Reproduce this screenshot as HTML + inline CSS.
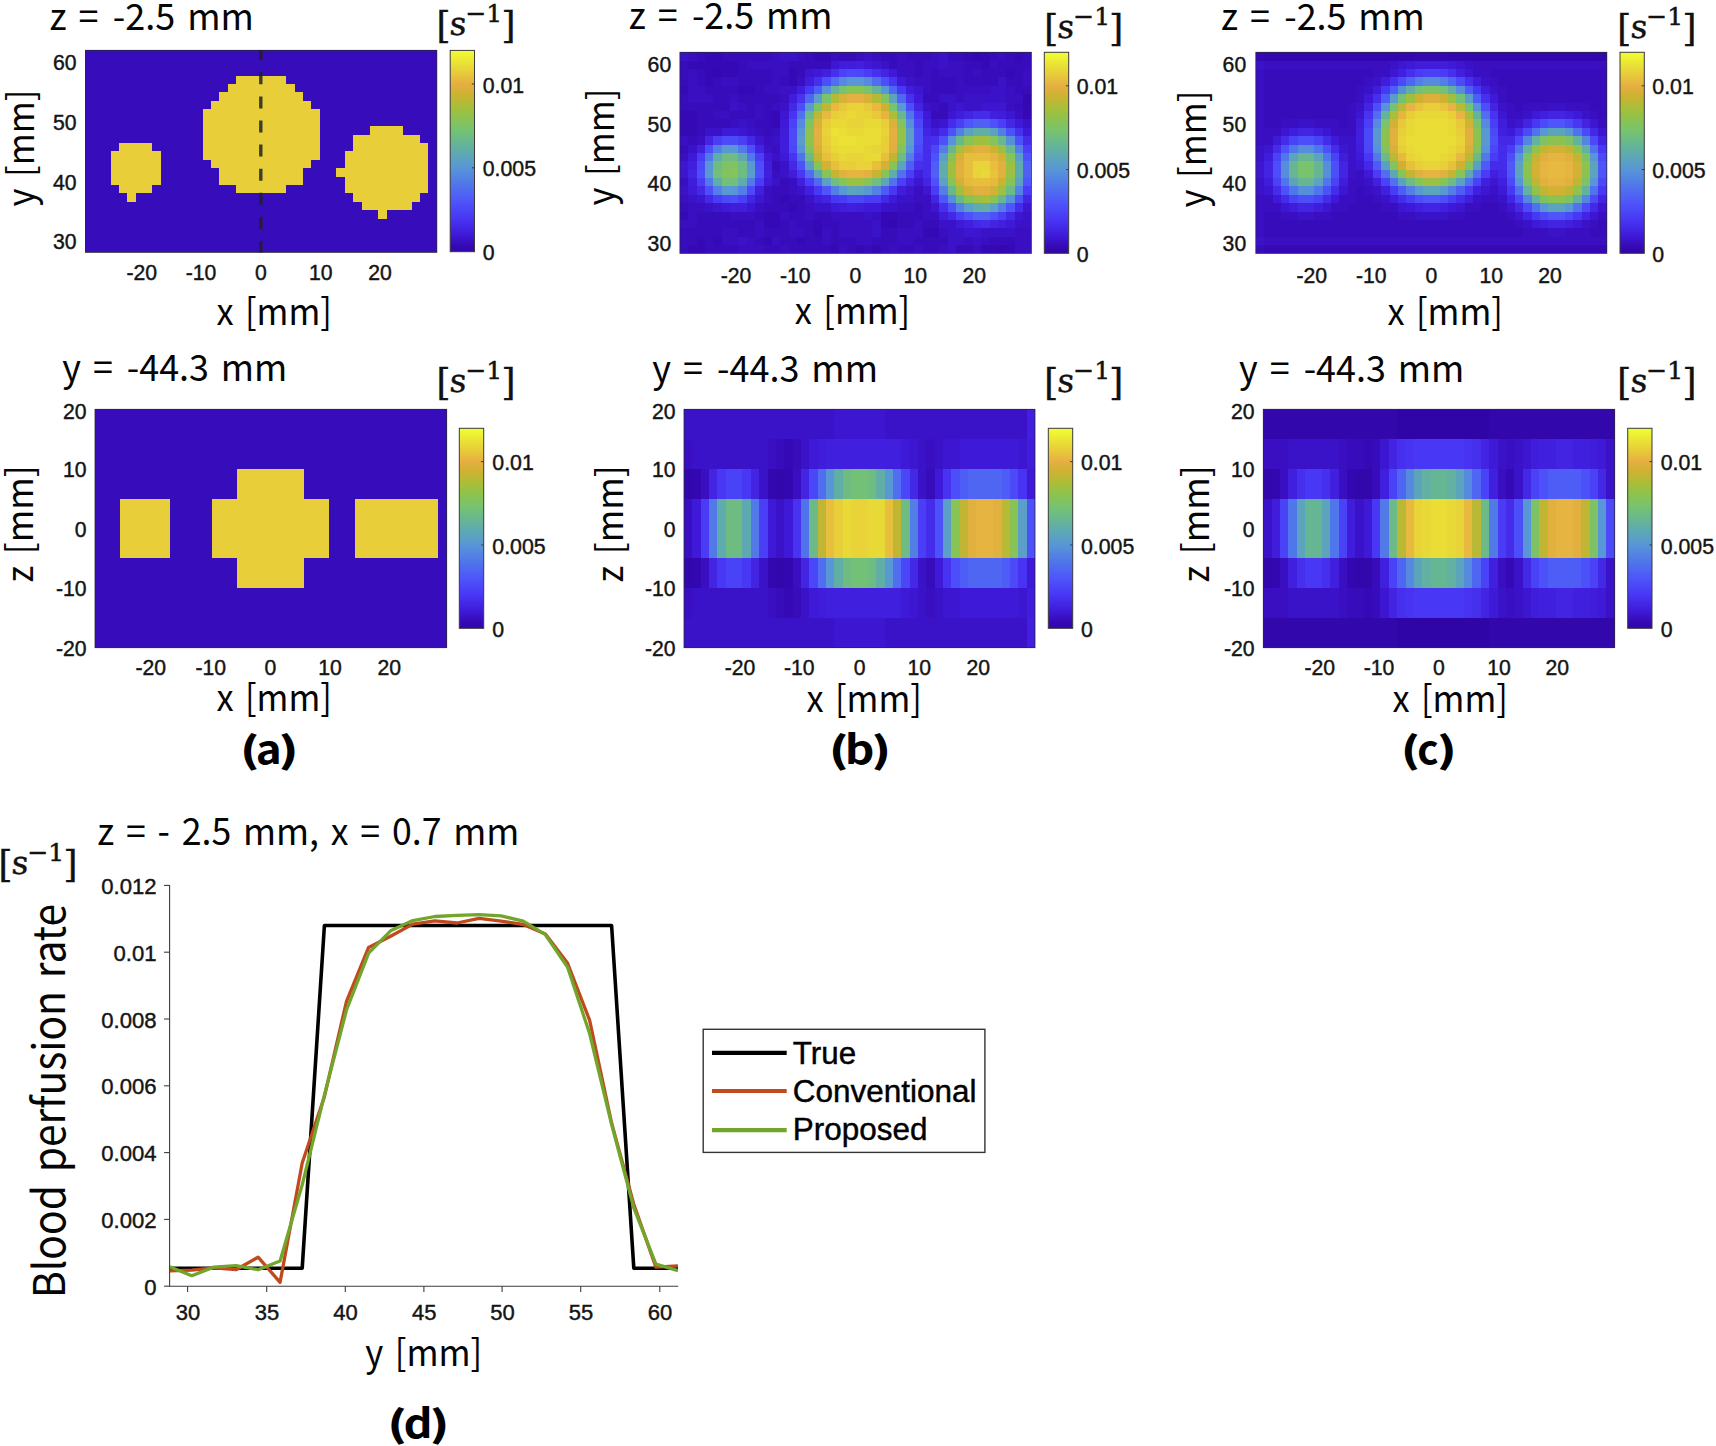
<!DOCTYPE html>
<html lang="en"><head><meta charset="utf-8"><title>Blood perfusion rate reconstruction</title>
<style>html,body{margin:0;padding:0;background:#fff}svg{display:block}</style></head>
<body>
<svg width="1716" height="1446" viewBox="0 0 1716 1446">
<defs><linearGradient id="cb" x1="0" y1="1" x2="0" y2="0">
<stop offset="0.0000" stop-color="#3005a8"/>
<stop offset="0.0417" stop-color="#370cba"/>
<stop offset="0.0833" stop-color="#3e19d7"/>
<stop offset="0.1667" stop-color="#4837f5"/>
<stop offset="0.2500" stop-color="#4e55fa"/>
<stop offset="0.3333" stop-color="#5076eb"/>
<stop offset="0.4167" stop-color="#5896d7"/>
<stop offset="0.5000" stop-color="#5facac"/>
<stop offset="0.5542" stop-color="#69b98c"/>
<stop offset="0.6108" stop-color="#78c36e"/>
<stop offset="0.6667" stop-color="#8cc350"/>
<stop offset="0.7250" stop-color="#aabe37"/>
<stop offset="0.7808" stop-color="#cdb232"/>
<stop offset="0.8333" stop-color="#e6af41"/>
<stop offset="0.9133" stop-color="#e8d737"/>
<stop offset="0.9892" stop-color="#f0fa32"/>
<stop offset="1.0000" stop-color="#f2fc30"/>
</linearGradient></defs>
<rect width="1716" height="1446" fill="#fff"/>
<g transform="translate(85.40 50.30) scale(8.36667 8.42083)" shape-rendering="crispEdges">
<rect width="42" height="24" fill="#370cba"/>
<path fill="#e8ce39" d="M18 3h6v1h-6zM17 4h8v1h-8zM16 5h10v1h-10zM15 6h12v1h-12zM14 7h14v1h-14zM14 8h14v1h-14zM14 9h14v1h-14zM34 9h4v1h-4zM14 10h14v1h-14zM32 10h8v1h-8zM4 11h4v1h-4zM14 11h14v1h-14zM32 11h9v1h-9zM3 12h6v1h-6zM14 12h14v1h-14zM31 12h10v1h-10zM3 13h6v1h-6zM15 13h12v1h-12zM31 13h10v1h-10zM3 14h6v1h-6zM16 14h10v1h-10zM30 14h11v1h-11zM3 15h6v1h-6zM16 15h10v1h-10zM31 15h10v1h-10zM4 16h4v1h-4zM18 16h6v1h-6zM31 16h10v1h-10zM5 17h1v1h-1zM32 17h8v1h-8zM33 18h6v1h-6zM35 19h1v1h-1z"/>
</g>
<rect x="85.40" y="50.30" width="351.40" height="202.10" fill="none" stroke="#2a2a3a" stroke-width="0.8"/>
<rect x="450.20" y="50.40" width="24.30" height="201.30" fill="url(#cb)" stroke="#3a3a3a" stroke-width="1"/>
<path d="M474.50 83.95h-2.6" stroke="#3a3a3a" stroke-width="1"/>
<text x="482.7" y="92.6" font-size="21.3" font-family="'Liberation Sans', Arial, sans-serif" fill="#141414" stroke="#141414" stroke-width="0.42" >0.01</text>
<path d="M474.50 167.82h-2.6" stroke="#3a3a3a" stroke-width="1"/>
<text x="482.7" y="176.4" font-size="21.3" font-family="'Liberation Sans', Arial, sans-serif" fill="#141414" stroke="#141414" stroke-width="0.42" >0.005</text>
<text x="482.7" y="260.3" font-size="21.3" font-family="'Liberation Sans', Arial, sans-serif" fill="#141414" stroke="#141414" stroke-width="0.42" >0</text>
<text x="49.4" y="30.1" font-size="37.0" font-family="'Noto Sans CJK KR', 'Liberation Sans', sans-serif" fill="#050505" textLength="204.5" lengthAdjust="spacingAndGlyphs" word-spacing="4" xml:space="preserve">z = <tspan dx="2.5">-2.5 mm</tspan></text>
<text x="34.0" y="148.0" font-size="37.0" font-family="'Noto Sans CJK KR', 'Liberation Sans', sans-serif" fill="#050505" text-anchor="middle" textLength="117.0" lengthAdjust="spacingAndGlyphs" transform="rotate(-90 34.0 148.0)" word-spacing="4" >y [mm]</text>
<text x="76.5" y="70.4" font-size="21.2" font-family="'Liberation Sans', Arial, sans-serif" fill="#141414" text-anchor="end" stroke="#141414" stroke-width="0.42" >60</text>
<text x="76.5" y="130.4" font-size="21.2" font-family="'Liberation Sans', Arial, sans-serif" fill="#141414" text-anchor="end" stroke="#141414" stroke-width="0.42" >50</text>
<text x="76.5" y="189.8" font-size="21.2" font-family="'Liberation Sans', Arial, sans-serif" fill="#141414" text-anchor="end" stroke="#141414" stroke-width="0.42" >40</text>
<text x="76.5" y="248.8" font-size="21.2" font-family="'Liberation Sans', Arial, sans-serif" fill="#141414" text-anchor="end" stroke="#141414" stroke-width="0.42" >30</text>
<text x="141.7" y="280.3" font-size="21.2" font-family="'Liberation Sans', Arial, sans-serif" fill="#141414" text-anchor="middle" stroke="#141414" stroke-width="0.42" >-20</text>
<text x="201.0" y="280.3" font-size="21.2" font-family="'Liberation Sans', Arial, sans-serif" fill="#141414" text-anchor="middle" stroke="#141414" stroke-width="0.42" >-10</text>
<text x="261.0" y="280.3" font-size="21.2" font-family="'Liberation Sans', Arial, sans-serif" fill="#141414" text-anchor="middle" stroke="#141414" stroke-width="0.42" >0</text>
<text x="320.7" y="280.3" font-size="21.2" font-family="'Liberation Sans', Arial, sans-serif" fill="#141414" text-anchor="middle" stroke="#141414" stroke-width="0.42" >10</text>
<text x="380.0" y="280.3" font-size="21.2" font-family="'Liberation Sans', Arial, sans-serif" fill="#141414" text-anchor="middle" stroke="#141414" stroke-width="0.42" >20</text>
<text x="274.2" y="325.0" font-size="37.0" font-family="'Noto Sans CJK KR', 'Liberation Sans', sans-serif" fill="#050505" text-anchor="middle" textLength="115.5" lengthAdjust="spacingAndGlyphs" word-spacing="4" >x [mm]</text>
<g font-family="'DejaVu Serif', 'Liberation Serif', serif" fill="#111">
<text x="436.2" y="37.6" font-size="37" stroke="#111" stroke-width="0.3">[</text>
<text x="449.0" y="34.7" font-size="32.5" stroke="#111" stroke-width="0.45" transform="translate(449.0 34.7) skewX(-5) translate(-449.0 -34.7)">s</text>
<text x="465.4" y="21.5" font-size="25" stroke="#111" stroke-width="0.5">−1</text>
<text x="501.3" y="37.6" font-size="37" stroke="#111" stroke-width="0.3">]</text>
</g>
<path d="M260.8 50.3V252.4" stroke="#222" stroke-opacity="0.85" stroke-width="3.4" stroke-dasharray="12 12.1" stroke-dashoffset="2.1"/>
<g transform="translate(679.90 52.30) scale(8.36905 8.38333)" shape-rendering="crispEdges">
<rect width="42" height="24" fill="#370cba"/>
<path fill="#3408b1" d="M35 0h1v1h-1zM4 2h1v1h-1zM41 5h1v1h-1zM25 20h1v1h-1zM38 23h1v1h-1z"/>
<path fill="#350ab6" d="M3 0h2v1h-2zM16 0h2v1h-2zM34 0h1v1h-1zM36 0h1v1h-1zM40 0h1v1h-1zM1 1h6v1h-6zM36 1h1v1h-1zM3 2h1v1h-1zM5 2h2v1h-2zM13 2h1v1h-1zM39 2h1v1h-1zM3 3h1v1h-1zM13 3h1v1h-1zM0 4h1v1h-1zM7 4h2v1h-2zM41 6h1v1h-1zM0 7h2v1h-2zM11 7h1v1h-1zM41 7h1v1h-1zM0 8h2v1h-2zM11 8h1v1h-1zM0 9h2v1h-2zM12 17h1v1h-1zM13 18h1v1h-1zM0 19h1v1h-1zM10 19h2v1h-2zM24 19h2v1h-2zM10 20h2v1h-2zM16 20h1v1h-1zM24 20h1v1h-1zM16 21h1v1h-1zM29 21h2v1h-2zM2 22h1v1h-1zM4 22h1v1h-1zM10 22h1v1h-1zM14 22h1v1h-1zM1 23h2v1h-2zM18 23h1v1h-1zM21 23h1v1h-1zM23 23h1v1h-1zM36 23h2v1h-2zM39 23h1v1h-1z"/>
<path fill="#390fc1" d="M1 0h1v1h-1zM11 0h1v1h-1zM14 0h1v1h-1zM18 0h1v1h-1zM21 0h1v1h-1zM23 0h1v1h-1zM26 0h1v1h-1zM30 0h1v1h-1zM38 0h1v1h-1zM8 1h5v1h-5zM26 1h2v1h-2zM29 1h2v1h-2zM32 1h2v1h-2zM37 1h1v1h-1zM1 2h1v1h-1zM11 2h2v1h-2zM26 2h2v1h-2zM29 2h1v1h-1zM31 2h3v1h-3zM35 2h1v1h-1zM41 2h1v1h-1zM1 3h1v1h-1zM5 3h2v1h-2zM11 3h1v1h-1zM14 3h1v1h-1zM28 3h2v1h-2zM33 3h1v1h-1zM41 3h1v1h-1zM1 4h2v1h-2zM10 4h2v1h-2zM29 4h1v1h-1zM33 4h4v1h-4zM39 4h1v1h-1zM1 5h3v1h-3zM6 5h1v1h-1zM12 5h1v1h-1zM33 5h1v1h-1zM39 5h2v1h-2zM7 6h1v1h-1zM9 6h1v1h-1zM11 6h1v1h-1zM30 6h1v1h-1zM39 6h1v1h-1zM4 7h2v1h-2zM9 7h1v1h-1zM40 7h1v1h-1zM6 8h1v1h-1zM8 8h1v1h-1zM9 9h1v1h-1zM11 9h1v1h-1zM0 10h1v1h-1zM2 10h1v1h-1zM10 10h1v1h-1zM11 11h1v1h-1zM0 12h1v1h-1zM11 14h1v1h-1zM0 15h1v1h-1zM13 15h1v1h-1zM10 16h1v1h-1zM13 16h1v1h-1zM28 16h1v1h-1zM0 17h1v1h-1zM10 17h1v1h-1zM28 17h2v1h-2zM1 18h2v1h-2zM9 18h1v1h-1zM15 18h1v1h-1zM26 18h2v1h-2zM29 18h1v1h-1zM1 19h1v1h-1zM6 19h3v1h-3zM12 19h1v1h-1zM15 19h1v1h-1zM18 19h4v1h-4zM23 19h1v1h-1zM29 19h2v1h-2zM0 20h2v1h-2zM9 20h1v1h-1zM13 20h1v1h-1zM19 20h4v1h-4zM28 20h1v1h-1zM5 21h2v1h-2zM9 21h1v1h-1zM13 21h2v1h-2zM17 21h1v1h-1zM19 21h4v1h-4zM26 21h3v1h-3zM31 21h1v1h-1zM40 21h2v1h-2zM5 22h2v1h-2zM8 22h1v1h-1zM11 22h1v1h-1zM17 22h1v1h-1zM21 22h2v1h-2zM26 22h2v1h-2zM34 22h1v1h-1zM36 22h1v1h-1zM40 22h2v1h-2zM7 23h3v1h-3zM12 23h1v1h-1zM19 23h1v1h-1zM25 23h1v1h-1zM28 23h1v1h-1zM31 23h1v1h-1zM35 23h1v1h-1zM40 23h2v1h-2z"/>
<path fill="#3a12c8" d="M0 0h1v1h-1zM12 0h2v1h-2zM22 0h1v1h-1zM31 0h1v1h-1zM24 1h1v1h-1zM31 1h1v1h-1zM27 3h1v1h-1zM38 3h1v1h-1zM12 4h2v1h-2zM37 4h2v1h-2zM31 5h2v1h-2zM34 5h5v1h-5zM6 6h1v1h-1zM12 6h1v1h-1zM29 6h1v1h-1zM32 6h1v1h-1zM34 6h2v1h-2zM7 8h1v1h-1zM30 8h1v1h-1zM41 8h1v1h-1zM3 9h2v1h-2zM8 9h1v1h-1zM11 10h1v1h-1zM1 11h1v1h-1zM10 11h1v1h-1zM11 12h1v1h-1zM12 13h1v1h-1zM12 14h1v1h-1zM11 15h1v1h-1zM0 16h1v1h-1zM14 16h1v1h-1zM1 17h1v1h-1zM15 17h1v1h-1zM26 17h2v1h-2zM3 18h1v1h-1zM16 18h2v1h-2zM24 18h2v1h-2zM22 19h1v1h-1zM41 19h1v1h-1zM23 20h1v1h-1zM31 20h2v1h-2zM40 20h2v1h-2zM23 21h1v1h-1zM32 21h2v1h-2zM36 21h4v1h-4zM7 22h1v1h-1zM32 22h2v1h-2zM35 22h1v1h-1zM32 23h1v1h-1z"/>
<path fill="#3c16d0" d="M18 1h1v1h-1zM23 1h1v1h-1zM15 2h1v1h-1zM28 4h1v1h-1zM33 6h1v1h-1zM36 6h3v1h-3zM12 7h1v1h-1zM32 7h1v1h-1zM39 7h1v1h-1zM31 8h1v1h-1zM7 9h1v1h-1zM9 10h1v1h-1zM0 13h1v1h-1zM0 14h1v1h-1zM28 15h1v1h-1zM27 16h1v1h-1zM29 16h1v1h-1zM2 17h1v1h-1zM9 17h1v1h-1zM4 18h1v1h-1zM8 18h1v1h-1zM30 18h1v1h-1zM41 18h1v1h-1zM40 19h1v1h-1zM34 21h2v1h-2z"/>
<path fill="#3e19d7" d="M22 1h1v1h-1zM16 2h1v1h-1zM25 2h1v1h-1zM26 3h1v1h-1zM28 5h1v1h-1zM29 7h1v1h-1zM12 8h1v1h-1zM40 8h1v1h-1zM5 9h2v1h-2zM41 9h1v1h-1zM1 12h1v1h-1zM10 12h1v1h-1zM12 12h1v1h-1zM10 15h1v1h-1zM1 16h1v1h-1zM25 17h1v1h-1zM5 18h1v1h-1zM18 18h1v1h-1zM22 18h2v1h-2zM33 20h1v1h-1zM39 20h1v1h-1z"/>
<path fill="#3f1ddb" d="M19 1h2v1h-2zM15 3h1v1h-1zM14 4h1v1h-1zM27 4h1v1h-1zM13 5h1v1h-1zM33 7h1v1h-1zM38 7h1v1h-1zM29 8h1v1h-1zM12 9h1v1h-1zM30 9h1v1h-1zM12 10h1v1h-1zM12 11h1v1h-1zM10 13h1v1h-1zM13 14h1v1h-1zM1 15h1v1h-1zM26 16h1v1h-1zM16 17h1v1h-1zM6 18h2v1h-2zM19 18h1v1h-1zM21 18h1v1h-1zM31 19h1v1h-1z"/>
<path fill="#4020de" d="M21 1h1v1h-1zM17 2h1v1h-1zM37 7h1v1h-1zM2 11h1v1h-1zM1 13h1v1h-1zM10 14h1v1h-1zM28 14h1v1h-1zM14 15h1v1h-1zM9 16h1v1h-1zM15 16h1v1h-1zM20 18h1v1h-1zM34 20h1v1h-1zM38 20h1v1h-1z"/>
<path fill="#4224e2" d="M24 2h1v1h-1zM28 6h1v1h-1zM34 7h1v1h-1zM29 9h1v1h-1zM3 10h1v1h-1zM9 11h1v1h-1zM1 14h1v1h-1zM27 15h1v1h-1zM29 15h1v1h-1zM8 17h1v1h-1zM17 17h1v1h-1zM30 17h1v1h-1zM41 17h1v1h-1zM37 20h1v1h-1z"/>
<path fill="#4328e6" d="M13 6h1v1h-1zM39 8h1v1h-1zM8 10h1v1h-1zM13 13h1v1h-1zM2 16h1v1h-1zM3 17h1v1h-1zM24 17h1v1h-1zM32 19h1v1h-1zM39 19h1v1h-1zM35 20h1v1h-1z"/>
<path fill="#442cea" d="M35 7h2v1h-2zM32 8h1v1h-1zM31 9h1v1h-1zM29 10h1v1h-1zM41 10h1v1h-1zM29 11h1v1h-1zM29 12h1v1h-1zM29 13h1v1h-1zM29 14h1v1h-1zM40 18h1v1h-1zM36 20h1v1h-1z"/>
<path fill="#4630ee" d="M18 2h1v1h-1zM23 2h1v1h-1zM16 3h1v1h-1zM27 5h1v1h-1zM40 9h1v1h-1zM30 10h1v1h-1zM28 13h1v1h-1zM31 18h1v1h-1z"/>
<path fill="#4733f1" d="M25 3h1v1h-1zM14 5h1v1h-1zM13 7h1v1h-1zM13 12h1v1h-1z"/>
<path fill="#4837f5" d="M15 4h1v1h-1zM26 4h1v1h-1zM28 7h1v1h-1zM14 14h1v1h-1zM16 16h1v1h-1zM25 16h1v1h-1zM18 17h1v1h-1z"/>
<path fill="#493bf6" d="M22 2h1v1h-1zM4 10h1v1h-1zM2 12h1v1h-1zM2 15h1v1h-1zM9 15h1v1h-1zM30 16h1v1h-1zM41 16h1v1h-1zM4 17h1v1h-1zM19 17h1v1h-1zM22 17h2v1h-2z"/>
<path fill="#4a3ef6" d="M33 8h1v1h-1zM38 8h1v1h-1zM7 10h1v1h-1zM41 11h1v1h-1zM9 12h1v1h-1zM28 12h1v1h-1zM27 14h1v1h-1zM15 15h1v1h-1zM26 15h1v1h-1zM7 17h1v1h-1zM33 19h1v1h-1zM38 19h1v1h-1z"/>
<path fill="#4a42f7" d="M19 2h1v1h-1zM13 8h1v1h-1z"/>
<path fill="#4b46f8" d="M21 2h1v1h-1zM28 8h1v1h-1zM13 11h1v1h-1zM30 11h1v1h-1zM20 17h2v1h-2z"/>
<path fill="#4c4af8" d="M20 2h1v1h-1zM13 9h1v1h-1zM5 10h2v1h-2zM13 10h1v1h-1zM28 11h1v1h-1zM2 13h1v1h-1zM8 16h1v1h-1zM5 17h1v1h-1z"/>
<path fill="#4c4ef9" d="M17 3h1v1h-1zM24 3h1v1h-1zM14 6h1v1h-1zM27 6h1v1h-1zM3 11h1v1h-1zM8 11h1v1h-1zM9 13h1v1h-1zM2 14h1v1h-1zM3 16h1v1h-1zM6 17h1v1h-1z"/>
<path fill="#4d51f9" d="M37 8h1v1h-1zM28 9h1v1h-1zM32 9h1v1h-1zM39 9h1v1h-1zM28 10h1v1h-1zM31 10h1v1h-1zM40 10h1v1h-1zM30 12h1v1h-1zM41 12h1v1h-1zM14 13h1v1h-1zM9 14h1v1h-1zM30 15h1v1h-1zM40 17h1v1h-1zM32 18h1v1h-1zM34 19h1v1h-1zM37 19h1v1h-1z"/>
<path fill="#4e55fa" d="M34 8h1v1h-1zM41 15h1v1h-1zM17 16h1v1h-1zM31 17h1v1h-1zM39 18h1v1h-1z"/>
<path fill="#4e59f8" d="M24 16h1v1h-1z"/>
<path fill="#4e5df6" d="M16 4h1v1h-1zM27 13h1v1h-1zM30 13h1v1h-1z"/>
<path fill="#4f61f4" d="M35 8h2v1h-2zM41 13h1v1h-1zM30 14h1v1h-1zM41 14h1v1h-1zM35 19h2v1h-2z"/>
<path fill="#4f66f2" d="M25 4h1v1h-1zM15 5h1v1h-1zM26 5h1v1h-1z"/>
<path fill="#4f6af1" d="M16 15h1v1h-1z"/>
<path fill="#506eef" d="M18 3h1v1h-1zM23 3h1v1h-1zM15 14h1v1h-1z"/>
<path fill="#5072ed" d="M14 7h1v1h-1zM14 12h1v1h-1zM26 14h1v1h-1zM25 15h1v1h-1z"/>
<path fill="#5076eb" d="M27 7h1v1h-1z"/>
<path fill="#517ae8" d="M7 11h1v1h-1zM3 12h1v1h-1zM8 12h1v1h-1zM3 15h1v1h-1zM8 15h1v1h-1z"/>
<path fill="#527ee6" d="M33 9h1v1h-1zM38 9h1v1h-1zM4 11h1v1h-1zM31 11h1v1h-1zM40 11h1v1h-1zM27 12h1v1h-1zM4 16h1v1h-1zM7 16h1v1h-1zM18 16h1v1h-1zM31 16h1v1h-1zM38 18h1v1h-1z"/>
<path fill="#5382e4" d="M23 16h1v1h-1zM40 16h1v1h-1zM33 18h1v1h-1z"/>
<path fill="#558ade" d="M19 3h1v1h-1zM22 3h1v1h-1zM14 8h1v1h-1z"/>
<path fill="#568edc" d="M27 8h1v1h-1zM39 10h1v1h-1zM32 17h1v1h-1z"/>
<path fill="#5792da" d="M17 4h1v1h-1zM32 10h1v1h-1zM14 11h1v1h-1zM39 17h1v1h-1z"/>
<path fill="#5896d7" d="M20 3h2v1h-2zM24 4h1v1h-1zM14 9h1v1h-1zM6 11h1v1h-1zM27 11h1v1h-1zM3 13h1v1h-1zM6 16h1v1h-1z"/>
<path fill="#5999d2" d="M26 6h1v1h-1zM5 11h1v1h-1zM8 13h1v1h-1zM3 14h1v1h-1zM5 16h1v1h-1zM19 16h1v1h-1zM22 16h1v1h-1z"/>
<path fill="#5a9ccc" d="M15 6h1v1h-1zM14 10h1v1h-1zM8 14h1v1h-1z"/>
<path fill="#5b9ec7" d="M16 5h1v1h-1zM27 9h1v1h-1zM27 10h1v1h-1zM31 12h1v1h-1zM40 12h1v1h-1zM15 13h1v1h-1zM34 18h1v1h-1zM37 18h1v1h-1z"/>
<path fill="#5ca1c2" d="M34 9h1v1h-1zM37 9h1v1h-1zM17 15h1v1h-1zM31 15h1v1h-1zM40 15h1v1h-1zM21 16h1v1h-1z"/>
<path fill="#5ca4bc" d="M25 5h1v1h-1zM26 13h1v1h-1zM20 16h1v1h-1z"/>
<path fill="#5da6b7" d="M24 15h1v1h-1z"/>
<path fill="#5ea9b1" d="M7 12h1v1h-1zM16 14h1v1h-1z"/>
<path fill="#5facac" d="M4 12h1v1h-1zM31 13h1v1h-1zM40 13h1v1h-1zM25 14h1v1h-1zM40 14h1v1h-1zM4 15h1v1h-1zM7 15h1v1h-1zM35 18h1v1h-1z"/>
<path fill="#61aea6" d="M35 9h2v1h-2zM31 14h1v1h-1zM36 18h1v1h-1z"/>
<path fill="#65b49a" d="M18 4h1v1h-1zM23 4h1v1h-1z"/>
<path fill="#69b88d" d="M26 7h1v1h-1zM33 10h1v1h-1zM38 10h1v1h-1zM32 11h1v1h-1zM39 11h1v1h-1zM32 16h1v1h-1zM33 17h1v1h-1zM38 17h1v1h-1z"/>
<path fill="#6bba88" d="M15 7h1v1h-1zM15 12h1v1h-1zM39 16h1v1h-1z"/>
<path fill="#6ebc82" d="M5 12h2v1h-2zM26 12h1v1h-1zM4 13h1v1h-1zM7 13h1v1h-1zM7 14h1v1h-1z"/>
<path fill="#71be7d" d="M4 14h1v1h-1zM6 15h1v1h-1zM18 15h1v1h-1zM23 15h1v1h-1z"/>
<path fill="#73c077" d="M5 15h1v1h-1z"/>
<path fill="#79c36c" d="M19 4h1v1h-1zM22 4h1v1h-1zM17 5h1v1h-1zM25 6h1v1h-1z"/>
<path fill="#7dc366" d="M16 6h1v1h-1zM5 13h1v1h-1z"/>
<path fill="#81c361" d="M24 5h1v1h-1zM15 8h1v1h-1zM26 8h1v1h-1zM15 11h1v1h-1zM26 11h1v1h-1zM6 13h1v1h-1zM5 14h1v1h-1z"/>
<path fill="#85c35b" d="M37 10h1v1h-1zM6 14h1v1h-1z"/>
<path fill="#88c356" d="M20 4h2v1h-2zM34 10h1v1h-1zM32 12h1v1h-1zM39 12h1v1h-1zM16 13h1v1h-1zM25 13h1v1h-1zM17 14h1v1h-1zM24 14h1v1h-1zM19 15h1v1h-1zM32 15h1v1h-1zM39 15h1v1h-1zM34 17h1v1h-1z"/>
<path fill="#8cc350" d="M15 9h1v1h-1zM22 15h1v1h-1zM37 17h1v1h-1z"/>
<path fill="#91c24c" d="M26 9h1v1h-1zM15 10h1v1h-1zM26 10h1v1h-1z"/>
<path fill="#9cc043" d="M39 13h1v1h-1zM39 14h1v1h-1zM20 15h2v1h-2zM35 17h1v1h-1z"/>
<path fill="#a1bf3e" d="M35 10h2v1h-2zM38 11h1v1h-1zM32 13h1v1h-1zM32 14h1v1h-1zM33 16h1v1h-1zM38 16h1v1h-1z"/>
<path fill="#a7bf3a" d="M33 11h1v1h-1zM36 17h1v1h-1z"/>
<path fill="#adbd37" d="M25 7h1v1h-1z"/>
<path fill="#b3bb36" d="M18 5h1v1h-1zM23 5h1v1h-1z"/>
<path fill="#bab935" d="M16 7h1v1h-1z"/>
<path fill="#c0b634" d="M17 6h1v1h-1zM16 12h1v1h-1zM25 12h1v1h-1z"/>
<path fill="#c7b433" d="M18 14h1v1h-1zM23 14h1v1h-1z"/>
<path fill="#cdb232" d="M24 6h1v1h-1zM37 11h1v1h-1zM38 15h1v1h-1z"/>
<path fill="#d2b135" d="M34 11h1v1h-1zM38 12h1v1h-1zM17 13h1v1h-1zM24 13h1v1h-1zM33 15h1v1h-1zM34 16h1v1h-1zM37 16h1v1h-1z"/>
<path fill="#d7b138" d="M19 5h1v1h-1zM22 5h1v1h-1zM16 11h1v1h-1zM33 12h1v1h-1z"/>
<path fill="#dcb03b" d="M16 8h1v1h-1zM25 8h1v1h-1z"/>
<path fill="#e1b03e" d="M16 10h1v1h-1zM25 11h1v1h-1zM35 11h2v1h-2zM33 13h1v1h-1zM38 13h1v1h-1zM19 14h1v1h-1zM33 14h1v1h-1zM38 14h1v1h-1zM35 16h2v1h-2z"/>
<path fill="#e6af41" d="M20 5h2v1h-2zM16 9h1v1h-1zM25 9h1v1h-1zM25 10h1v1h-1zM22 14h1v1h-1z"/>
<path fill="#e6b440" d="M24 7h1v1h-1zM37 12h1v1h-1zM20 14h2v1h-2z"/>
<path fill="#e7b93e" d="M18 6h1v1h-1zM23 6h1v1h-1zM17 7h1v1h-1zM34 15h1v1h-1zM37 15h1v1h-1z"/>
<path fill="#e7bf3d" d="M17 12h1v1h-1zM24 12h1v1h-1zM34 12h3v1h-3zM18 13h1v1h-1zM23 13h1v1h-1zM34 13h1v1h-1zM37 13h1v1h-1zM34 14h1v1h-1zM35 15h2v1h-2z"/>
<path fill="#e7c43c" d="M37 14h1v1h-1z"/>
<path fill="#e7c93a" d="M19 6h1v1h-1zM22 6h1v1h-1zM23 7h1v1h-1zM17 11h1v1h-1z"/>
<path fill="#e8ce39" d="M18 7h1v1h-1zM17 8h1v1h-1zM24 8h1v1h-1zM17 10h1v1h-1zM24 10h1v1h-1zM24 11h1v1h-1zM18 12h1v1h-1zM19 13h2v1h-2z"/>
<path fill="#e8d338" d="M20 6h2v1h-2zM19 7h1v1h-1zM21 7h2v1h-2zM20 8h2v1h-2zM17 9h1v1h-1zM24 9h1v1h-1zM23 11h1v1h-1zM20 12h2v1h-2zM21 13h2v1h-2zM35 13h2v1h-2zM35 14h1v1h-1z"/>
<path fill="#e8d937" d="M20 7h1v1h-1zM18 8h2v1h-2zM22 8h2v1h-2zM20 9h2v1h-2zM18 11h1v1h-1zM22 11h1v1h-1zM19 12h1v1h-1zM22 12h2v1h-2zM36 14h1v1h-1z"/>
<path fill="#e9dd36" d="M19 9h1v1h-1zM22 9h2v1h-2zM18 10h1v1h-1zM21 10h3v1h-3zM19 11h3v1h-3z"/>
<path fill="#ebe235" d="M18 9h1v1h-1zM19 10h2v1h-2z"/>
</g>
<rect x="679.90" y="52.30" width="351.50" height="201.20" fill="none" stroke="#2a2a3a" stroke-width="0.8"/>
<rect x="1044.30" y="52.30" width="24.40" height="201.00" fill="url(#cb)" stroke="#3a3a3a" stroke-width="1"/>
<path d="M1068.70 85.80h-2.6" stroke="#3a3a3a" stroke-width="1"/>
<text x="1076.7" y="94.4" font-size="21.3" font-family="'Liberation Sans', Arial, sans-serif" fill="#141414" stroke="#141414" stroke-width="0.42" >0.01</text>
<path d="M1068.70 169.55h-2.6" stroke="#3a3a3a" stroke-width="1"/>
<text x="1076.7" y="178.2" font-size="21.3" font-family="'Liberation Sans', Arial, sans-serif" fill="#141414" stroke="#141414" stroke-width="0.42" >0.005</text>
<text x="1076.7" y="261.9" font-size="21.3" font-family="'Liberation Sans', Arial, sans-serif" fill="#141414" stroke="#141414" stroke-width="0.42" >0</text>
<text x="628.7" y="28.5" font-size="37.0" font-family="'Noto Sans CJK KR', 'Liberation Sans', sans-serif" fill="#050505" textLength="203.8" lengthAdjust="spacingAndGlyphs" word-spacing="4" xml:space="preserve">z = <tspan dx="2.5">-2.5 mm</tspan></text>
<text x="614.0" y="147.0" font-size="37.0" font-family="'Noto Sans CJK KR', 'Liberation Sans', sans-serif" fill="#050505" text-anchor="middle" textLength="117.0" lengthAdjust="spacingAndGlyphs" transform="rotate(-90 614.0 147.0)" word-spacing="4" >y [mm]</text>
<text x="671.2" y="72.1" font-size="21.2" font-family="'Liberation Sans', Arial, sans-serif" fill="#141414" text-anchor="end" stroke="#141414" stroke-width="0.42" >60</text>
<text x="671.2" y="132.1" font-size="21.2" font-family="'Liberation Sans', Arial, sans-serif" fill="#141414" text-anchor="end" stroke="#141414" stroke-width="0.42" >50</text>
<text x="671.2" y="191.4" font-size="21.2" font-family="'Liberation Sans', Arial, sans-serif" fill="#141414" text-anchor="end" stroke="#141414" stroke-width="0.42" >40</text>
<text x="671.2" y="251.1" font-size="21.2" font-family="'Liberation Sans', Arial, sans-serif" fill="#141414" text-anchor="end" stroke="#141414" stroke-width="0.42" >30</text>
<text x="736.0" y="282.7" font-size="21.2" font-family="'Liberation Sans', Arial, sans-serif" fill="#141414" text-anchor="middle" stroke="#141414" stroke-width="0.42" >-20</text>
<text x="795.3" y="282.7" font-size="21.2" font-family="'Liberation Sans', Arial, sans-serif" fill="#141414" text-anchor="middle" stroke="#141414" stroke-width="0.42" >-10</text>
<text x="855.3" y="282.7" font-size="21.2" font-family="'Liberation Sans', Arial, sans-serif" fill="#141414" text-anchor="middle" stroke="#141414" stroke-width="0.42" >0</text>
<text x="915.3" y="282.7" font-size="21.2" font-family="'Liberation Sans', Arial, sans-serif" fill="#141414" text-anchor="middle" stroke="#141414" stroke-width="0.42" >10</text>
<text x="974.3" y="282.7" font-size="21.2" font-family="'Liberation Sans', Arial, sans-serif" fill="#141414" text-anchor="middle" stroke="#141414" stroke-width="0.42" >20</text>
<text x="852.5" y="323.5" font-size="37.0" font-family="'Noto Sans CJK KR', 'Liberation Sans', sans-serif" fill="#050505" text-anchor="middle" textLength="115.5" lengthAdjust="spacingAndGlyphs" word-spacing="4" >x [mm]</text>
<g font-family="'DejaVu Serif', 'Liberation Serif', serif" fill="#111">
<text x="1044.0" y="41.4" font-size="37" stroke="#111" stroke-width="0.3">[</text>
<text x="1056.8" y="38.5" font-size="32.5" stroke="#111" stroke-width="0.45" transform="translate(1056.8 38.5) skewX(-5) translate(-1056.8 -38.5)">s</text>
<text x="1073.2" y="25.3" font-size="25" stroke="#111" stroke-width="0.5">−1</text>
<text x="1109.1" y="41.4" font-size="37" stroke="#111" stroke-width="0.3">]</text>
</g>
<g transform="translate(1255.80 52.30) scale(8.35714 8.38333)" shape-rendering="crispEdges">
<rect width="42" height="24" fill="#370cba"/>
<path fill="#3207ac" d="M41 0h1v1h-1z"/>
<path fill="#3408b1" d="M1 0h18v1h-18zM23 0h18v1h-18z"/>
<path fill="#350ab6" d="M0 0h1v1h-1zM19 0h4v1h-4zM1 23h41v1h-41z"/>
<path fill="#390fc1" d="M1 1h15v1h-15zM26 1h16v1h-16zM0 2h1v1h-1zM14 2h2v1h-2zM26 2h2v1h-2zM0 3h1v1h-1zM13 3h1v1h-1zM28 3h1v1h-1zM0 4h1v1h-1zM12 4h1v1h-1zM29 4h1v1h-1zM0 5h1v1h-1zM12 5h1v1h-1zM29 5h1v1h-1zM0 6h1v1h-1zM11 6h1v1h-1zM30 6h1v1h-1zM32 6h3v1h-3zM37 6h3v1h-3zM0 7h1v1h-1zM11 7h1v1h-1zM30 7h2v1h-2zM40 7h1v1h-1zM0 8h1v1h-1zM3 8h2v1h-2zM7 8h3v1h-3zM11 8h1v1h-1zM41 8h1v1h-1zM0 9h3v1h-3zM9 9h3v1h-3zM0 10h2v1h-2zM12 14h1v1h-1zM11 15h2v1h-2zM11 16h1v1h-1zM13 16h1v1h-1zM0 17h2v1h-2zM10 17h2v1h-2zM14 17h1v1h-1zM27 17h2v1h-2zM0 18h3v1h-3zM9 18h2v1h-2zM15 18h2v1h-2zM25 18h2v1h-2zM29 18h1v1h-1zM0 19h1v1h-1zM3 19h2v1h-2zM7 19h2v1h-2zM17 19h2v1h-2zM23 19h2v1h-2zM30 19h1v1h-1zM41 19h1v1h-1zM0 20h1v1h-1zM31 20h1v1h-1zM40 20h1v1h-1zM0 21h1v1h-1zM32 21h3v1h-3zM37 21h3v1h-3zM1 22h41v1h-41z"/>
<path fill="#3a12c8" d="M0 1h1v1h-1zM16 1h1v1h-1zM25 1h1v1h-1zM14 3h1v1h-1zM27 3h1v1h-1zM13 4h1v1h-1zM28 4h1v1h-1zM12 6h1v1h-1zM29 6h1v1h-1zM35 6h2v1h-2zM32 7h1v1h-1zM39 7h1v1h-1zM5 8h2v1h-2zM30 8h1v1h-1zM10 10h2v1h-2zM0 11h1v1h-1zM11 11h1v1h-1zM0 12h1v1h-1zM11 12h1v1h-1zM11 13h1v1h-1zM11 14h1v1h-1zM0 15h1v1h-1zM13 15h1v1h-1zM0 16h1v1h-1zM14 16h1v1h-1zM28 16h1v1h-1zM15 17h1v1h-1zM26 17h1v1h-1zM29 17h1v1h-1zM5 19h2v1h-2zM19 19h4v1h-4zM32 20h1v1h-1zM39 20h1v1h-1zM35 21h2v1h-2zM0 22h1v1h-1z"/>
<path fill="#3c16d0" d="M17 1h1v1h-1zM24 1h1v1h-1zM16 2h1v1h-1zM25 2h1v1h-1zM12 7h1v1h-1zM29 7h1v1h-1zM31 8h1v1h-1zM40 8h1v1h-1zM3 9h1v1h-1zM8 9h1v1h-1zM41 9h1v1h-1zM1 11h1v1h-1zM10 11h1v1h-1zM0 13h1v1h-1zM12 13h1v1h-1zM0 14h1v1h-1zM28 15h1v1h-1zM1 16h1v1h-1zM10 16h1v1h-1zM27 16h1v1h-1zM3 18h1v1h-1zM8 18h1v1h-1zM17 18h1v1h-1zM24 18h1v1h-1zM30 18h1v1h-1zM41 18h1v1h-1zM31 19h1v1h-1zM40 19h1v1h-1z"/>
<path fill="#3e19d7" d="M18 1h1v1h-1zM23 1h1v1h-1zM13 5h1v1h-1zM28 5h1v1h-1zM33 7h1v1h-1zM38 7h1v1h-1zM30 9h1v1h-1zM2 10h1v1h-1zM9 10h1v1h-1zM12 12h1v1h-1zM13 14h1v1h-1zM29 16h1v1h-1zM2 17h1v1h-1zM9 17h1v1h-1zM18 18h1v1h-1zM23 18h1v1h-1zM33 20h1v1h-1zM38 20h1v1h-1z"/>
<path fill="#3f1ddb" d="M19 1h4v1h-4zM15 3h1v1h-1zM26 3h1v1h-1zM14 4h1v1h-1zM27 4h1v1h-1zM12 8h1v1h-1zM29 8h1v1h-1zM4 9h1v1h-1zM7 9h1v1h-1zM12 11h1v1h-1zM1 12h1v1h-1zM10 12h1v1h-1zM1 15h1v1h-1zM10 15h1v1h-1zM16 17h1v1h-1zM25 17h1v1h-1zM4 18h1v1h-1zM7 18h1v1h-1z"/>
<path fill="#4020de" d="M17 2h1v1h-1zM24 2h1v1h-1zM34 7h1v1h-1zM37 7h1v1h-1zM12 9h1v1h-1zM29 9h1v1h-1zM12 10h1v1h-1zM28 14h1v1h-1zM14 15h1v1h-1zM27 15h1v1h-1zM29 15h1v1h-1zM15 16h1v1h-1zM26 16h1v1h-1zM19 18h1v1h-1zM22 18h1v1h-1zM34 20h1v1h-1zM37 20h1v1h-1z"/>
<path fill="#4224e2" d="M13 6h1v1h-1zM28 6h1v1h-1zM35 7h2v1h-2zM32 8h1v1h-1zM39 8h1v1h-1zM5 9h2v1h-2zM41 10h1v1h-1zM1 13h1v1h-1zM10 13h1v1h-1zM1 14h1v1h-1zM10 14h1v1h-1zM30 17h1v1h-1zM41 17h1v1h-1zM5 18h2v1h-2zM20 18h2v1h-2zM32 19h1v1h-1zM39 19h1v1h-1zM35 20h2v1h-2z"/>
<path fill="#4328e6" d="M40 9h1v1h-1zM29 10h2v1h-2zM13 13h1v1h-1zM29 14h1v1h-1zM31 18h1v1h-1zM40 18h1v1h-1z"/>
<path fill="#442cea" d="M31 9h1v1h-1zM3 10h1v1h-1zM8 10h1v1h-1zM2 11h1v1h-1zM9 11h1v1h-1zM29 11h1v1h-1zM29 12h1v1h-1zM28 13h2v1h-2zM2 16h1v1h-1zM9 16h1v1h-1zM3 17h1v1h-1zM8 17h1v1h-1zM17 17h1v1h-1zM24 17h1v1h-1z"/>
<path fill="#4630ee" d="M18 2h1v1h-1zM23 2h1v1h-1zM16 3h1v1h-1zM25 3h1v1h-1zM14 5h1v1h-1zM27 5h1v1h-1z"/>
<path fill="#4733f1" d="M13 7h1v1h-1zM28 7h1v1h-1z"/>
<path fill="#4837f5" d="M15 4h1v1h-1zM26 4h1v1h-1zM33 8h1v1h-1zM38 8h1v1h-1zM41 11h1v1h-1zM13 12h1v1h-1zM30 16h1v1h-1zM41 16h1v1h-1zM33 19h1v1h-1zM38 19h1v1h-1z"/>
<path fill="#493bf6" d="M19 2h1v1h-1zM22 2h1v1h-1zM30 11h1v1h-1zM28 12h1v1h-1zM14 14h1v1h-1zM27 14h1v1h-1zM16 16h1v1h-1zM25 16h1v1h-1zM18 17h1v1h-1zM23 17h1v1h-1z"/>
<path fill="#4a3ef6" d="M20 2h2v1h-2zM13 8h1v1h-1zM28 8h1v1h-1z"/>
<path fill="#4a42f7" d="M4 10h1v1h-1zM7 10h1v1h-1zM2 12h1v1h-1zM9 12h1v1h-1zM2 15h1v1h-1zM9 15h1v1h-1zM15 15h1v1h-1zM26 15h1v1h-1zM4 17h1v1h-1zM7 17h1v1h-1z"/>
<path fill="#4b46f8" d="M13 11h1v1h-1zM28 11h1v1h-1z"/>
<path fill="#4c4af8" d="M17 3h1v1h-1zM24 3h1v1h-1zM34 8h1v1h-1zM37 8h1v1h-1zM13 9h1v1h-1zM28 9h1v1h-1zM32 9h1v1h-1zM39 9h1v1h-1zM13 10h1v1h-1zM31 10h1v1h-1zM40 10h1v1h-1zM41 12h1v1h-1zM30 15h1v1h-1zM41 15h1v1h-1zM31 17h1v1h-1zM40 17h1v1h-1zM32 18h1v1h-1zM39 18h1v1h-1zM34 19h1v1h-1zM37 19h1v1h-1z"/>
<path fill="#4c4ef9" d="M14 6h1v1h-1zM27 6h1v1h-1zM5 10h2v1h-2zM28 10h1v1h-1zM30 12h1v1h-1zM2 13h1v1h-1zM9 13h1v1h-1zM2 14h1v1h-1zM9 14h1v1h-1zM5 17h2v1h-2zM19 17h1v1h-1zM22 17h1v1h-1z"/>
<path fill="#4d51f9" d="M3 11h1v1h-1zM8 11h1v1h-1zM3 16h1v1h-1zM8 16h1v1h-1z"/>
<path fill="#4e55fa" d="M35 8h2v1h-2zM41 13h1v1h-1zM30 14h1v1h-1zM41 14h1v1h-1zM20 17h2v1h-2zM35 19h2v1h-2z"/>
<path fill="#4e59f8" d="M14 13h1v1h-1zM27 13h1v1h-1zM30 13h1v1h-1z"/>
<path fill="#4e5df6" d="M16 4h1v1h-1zM25 4h1v1h-1zM15 5h1v1h-1zM26 5h1v1h-1zM17 16h1v1h-1zM24 16h1v1h-1z"/>
<path fill="#4f66f2" d="M18 3h1v1h-1zM23 3h1v1h-1z"/>
<path fill="#506eef" d="M14 7h1v1h-1zM27 7h1v1h-1zM15 14h1v1h-1zM26 14h1v1h-1z"/>
<path fill="#5072ed" d="M33 9h1v1h-1zM38 9h1v1h-1zM40 11h1v1h-1zM16 15h1v1h-1zM25 15h1v1h-1zM31 16h1v1h-1zM40 16h1v1h-1zM33 18h1v1h-1zM38 18h1v1h-1z"/>
<path fill="#5076eb" d="M4 11h1v1h-1zM7 11h1v1h-1zM31 11h1v1h-1zM3 12h1v1h-1zM8 12h1v1h-1zM3 15h1v1h-1zM8 15h1v1h-1zM4 16h1v1h-1zM7 16h1v1h-1z"/>
<path fill="#517ae8" d="M14 12h1v1h-1zM27 12h1v1h-1z"/>
<path fill="#527ee6" d="M19 3h1v1h-1zM22 3h1v1h-1zM18 16h1v1h-1zM23 16h1v1h-1z"/>
<path fill="#5486e1" d="M32 10h1v1h-1zM39 10h1v1h-1zM32 17h1v1h-1zM39 17h1v1h-1z"/>
<path fill="#558ade" d="M20 3h2v1h-2zM14 8h1v1h-1zM27 8h1v1h-1z"/>
<path fill="#568edc" d="M17 4h1v1h-1zM24 4h1v1h-1zM5 11h2v1h-2zM3 13h1v1h-1zM8 13h1v1h-1zM3 14h1v1h-1zM8 14h1v1h-1zM5 16h2v1h-2z"/>
<path fill="#5792da" d="M15 6h1v1h-1zM26 6h1v1h-1zM14 11h1v1h-1zM27 11h1v1h-1z"/>
<path fill="#5896d7" d="M34 9h1v1h-1zM37 9h1v1h-1zM31 12h1v1h-1zM40 12h1v1h-1zM31 15h1v1h-1zM40 15h1v1h-1zM34 18h1v1h-1zM37 18h1v1h-1z"/>
<path fill="#5999d2" d="M14 9h1v1h-1zM27 9h1v1h-1zM14 10h1v1h-1zM27 10h1v1h-1zM19 16h1v1h-1zM22 16h1v1h-1z"/>
<path fill="#5a9ccc" d="M16 5h1v1h-1zM25 5h1v1h-1z"/>
<path fill="#5b9ec7" d="M15 13h1v1h-1zM26 13h1v1h-1z"/>
<path fill="#5ca1c2" d="M17 15h1v1h-1zM24 15h1v1h-1z"/>
<path fill="#5ca4bc" d="M35 9h2v1h-2zM4 12h1v1h-1zM7 12h1v1h-1zM31 13h1v1h-1zM40 13h1v1h-1zM31 14h1v1h-1zM40 14h1v1h-1zM4 15h1v1h-1zM7 15h1v1h-1zM20 16h2v1h-2zM35 18h2v1h-2z"/>
<path fill="#5ea9b1" d="M16 14h1v1h-1zM25 14h1v1h-1z"/>
<path fill="#61aea6" d="M18 4h1v1h-1zM23 4h1v1h-1z"/>
<path fill="#63b1a0" d="M33 10h1v1h-1zM38 10h1v1h-1zM32 11h1v1h-1zM39 11h1v1h-1zM32 16h1v1h-1zM39 16h1v1h-1zM33 17h1v1h-1zM38 17h1v1h-1z"/>
<path fill="#65b49a" d="M15 7h1v1h-1zM26 7h1v1h-1z"/>
<path fill="#67b693" d="M5 12h2v1h-2zM4 13h1v1h-1zM7 13h1v1h-1zM4 14h1v1h-1zM7 14h1v1h-1zM5 15h2v1h-2z"/>
<path fill="#6bba88" d="M15 12h1v1h-1zM26 12h1v1h-1z"/>
<path fill="#6ebc82" d="M18 15h1v1h-1zM23 15h1v1h-1z"/>
<path fill="#73c077" d="M19 4h1v1h-1zM22 4h1v1h-1zM17 5h1v1h-1zM24 5h1v1h-1z"/>
<path fill="#76c272" d="M16 6h1v1h-1zM25 6h1v1h-1z"/>
<path fill="#79c36c" d="M15 8h1v1h-1zM26 8h1v1h-1zM5 13h2v1h-2zM5 14h2v1h-2z"/>
<path fill="#7dc366" d="M20 4h2v1h-2zM34 10h1v1h-1zM37 10h1v1h-1zM32 12h1v1h-1zM39 12h1v1h-1zM32 15h1v1h-1zM39 15h1v1h-1zM34 17h1v1h-1zM37 17h1v1h-1z"/>
<path fill="#81c361" d="M15 11h1v1h-1zM26 11h1v1h-1z"/>
<path fill="#85c35b" d="M16 13h1v1h-1zM25 13h1v1h-1z"/>
<path fill="#88c356" d="M15 9h1v1h-1zM26 9h1v1h-1zM17 14h1v1h-1zM24 14h1v1h-1zM19 15h1v1h-1zM22 15h1v1h-1z"/>
<path fill="#8cc350" d="M15 10h1v1h-1zM26 10h1v1h-1zM35 10h2v1h-2zM32 13h1v1h-1zM39 13h1v1h-1zM32 14h1v1h-1zM39 14h1v1h-1zM35 17h2v1h-2z"/>
<path fill="#91c24c" d="M33 11h1v1h-1zM38 11h1v1h-1zM33 16h1v1h-1zM38 16h1v1h-1z"/>
<path fill="#9cc043" d="M20 15h2v1h-2z"/>
<path fill="#a1bf3e" d="M18 5h1v1h-1zM23 5h1v1h-1z"/>
<path fill="#a7bf3a" d="M16 7h1v1h-1zM25 7h1v1h-1z"/>
<path fill="#bab935" d="M17 6h1v1h-1zM24 6h1v1h-1zM16 12h1v1h-1zM25 12h1v1h-1z"/>
<path fill="#c0b634" d="M34 11h1v1h-1zM37 11h1v1h-1zM33 12h1v1h-1zM38 12h1v1h-1zM18 14h1v1h-1zM23 14h1v1h-1zM33 15h1v1h-1zM38 15h1v1h-1zM34 16h1v1h-1zM37 16h1v1h-1z"/>
<path fill="#cdb232" d="M19 5h1v1h-1zM22 5h1v1h-1zM17 13h1v1h-1zM24 13h1v1h-1z"/>
<path fill="#d2b135" d="M16 8h1v1h-1zM25 8h1v1h-1zM35 11h2v1h-2zM33 13h1v1h-1zM38 13h1v1h-1zM33 14h1v1h-1zM38 14h1v1h-1zM35 16h2v1h-2z"/>
<path fill="#d7b138" d="M16 11h1v1h-1zM25 11h1v1h-1z"/>
<path fill="#dcb03b" d="M20 5h2v1h-2z"/>
<path fill="#e1b03e" d="M16 9h1v1h-1zM25 9h1v1h-1zM16 10h1v1h-1zM25 10h1v1h-1zM34 12h1v1h-1zM37 12h1v1h-1zM19 14h1v1h-1zM22 14h1v1h-1zM34 15h1v1h-1zM37 15h1v1h-1z"/>
<path fill="#e6b440" d="M18 6h1v1h-1zM23 6h1v1h-1zM17 7h1v1h-1zM24 7h1v1h-1zM35 12h2v1h-2zM34 13h1v1h-1zM37 13h1v1h-1zM20 14h2v1h-2zM34 14h1v1h-1zM37 14h1v1h-1zM35 15h2v1h-2z"/>
<path fill="#e7b93e" d="M17 12h1v1h-1zM24 12h1v1h-1zM35 13h2v1h-2zM35 14h2v1h-2z"/>
<path fill="#e7bf3d" d="M18 13h1v1h-1zM23 13h1v1h-1z"/>
<path fill="#e7c43c" d="M19 6h1v1h-1zM22 6h1v1h-1z"/>
<path fill="#e7c93a" d="M17 8h1v1h-1zM24 8h1v1h-1z"/>
<path fill="#e8ce39" d="M20 6h2v1h-2zM18 7h1v1h-1zM23 7h1v1h-1zM17 9h1v1h-1zM24 9h1v1h-1zM17 11h1v1h-1zM24 11h1v1h-1zM19 13h1v1h-1zM22 13h1v1h-1z"/>
<path fill="#e8d338" d="M17 10h1v1h-1zM24 10h1v1h-1zM18 12h1v1h-1zM23 12h1v1h-1zM20 13h2v1h-2z"/>
<path fill="#e8d937" d="M19 7h4v1h-4zM18 8h1v1h-1zM23 8h1v1h-1zM18 9h1v1h-1zM23 9h1v1h-1zM18 11h1v1h-1zM23 11h1v1h-1zM19 12h1v1h-1zM22 12h1v1h-1z"/>
<path fill="#e9dd36" d="M19 8h4v1h-4zM19 9h4v1h-4zM18 10h6v1h-6zM19 11h4v1h-4zM20 12h2v1h-2z"/>
</g>
<rect x="1255.80" y="52.30" width="351.00" height="201.20" fill="none" stroke="#2a2a3a" stroke-width="0.8"/>
<rect x="1620.00" y="52.30" width="24.30" height="201.00" fill="url(#cb)" stroke="#3a3a3a" stroke-width="1"/>
<path d="M1644.30 85.80h-2.6" stroke="#3a3a3a" stroke-width="1"/>
<text x="1652.3" y="94.4" font-size="21.3" font-family="'Liberation Sans', Arial, sans-serif" fill="#141414" stroke="#141414" stroke-width="0.42" >0.01</text>
<path d="M1644.30 169.55h-2.6" stroke="#3a3a3a" stroke-width="1"/>
<text x="1652.3" y="178.2" font-size="21.3" font-family="'Liberation Sans', Arial, sans-serif" fill="#141414" stroke="#141414" stroke-width="0.42" >0.005</text>
<text x="1652.3" y="261.9" font-size="21.3" font-family="'Liberation Sans', Arial, sans-serif" fill="#141414" stroke="#141414" stroke-width="0.42" >0</text>
<text x="1221.0" y="30.0" font-size="37.0" font-family="'Noto Sans CJK KR', 'Liberation Sans', sans-serif" fill="#050505" textLength="203.8" lengthAdjust="spacingAndGlyphs" word-spacing="4" xml:space="preserve">z = <tspan dx="2.5">-2.5 mm</tspan></text>
<text x="1206.0" y="149.0" font-size="37.0" font-family="'Noto Sans CJK KR', 'Liberation Sans', sans-serif" fill="#050505" text-anchor="middle" textLength="117.0" lengthAdjust="spacingAndGlyphs" transform="rotate(-90 1206.0 149.0)" word-spacing="4" >y [mm]</text>
<text x="1246.2" y="72.1" font-size="21.2" font-family="'Liberation Sans', Arial, sans-serif" fill="#141414" text-anchor="end" stroke="#141414" stroke-width="0.42" >60</text>
<text x="1246.2" y="132.1" font-size="21.2" font-family="'Liberation Sans', Arial, sans-serif" fill="#141414" text-anchor="end" stroke="#141414" stroke-width="0.42" >50</text>
<text x="1246.2" y="191.4" font-size="21.2" font-family="'Liberation Sans', Arial, sans-serif" fill="#141414" text-anchor="end" stroke="#141414" stroke-width="0.42" >40</text>
<text x="1246.2" y="251.1" font-size="21.2" font-family="'Liberation Sans', Arial, sans-serif" fill="#141414" text-anchor="end" stroke="#141414" stroke-width="0.42" >30</text>
<text x="1311.7" y="282.7" font-size="21.2" font-family="'Liberation Sans', Arial, sans-serif" fill="#141414" text-anchor="middle" stroke="#141414" stroke-width="0.42" >-20</text>
<text x="1371.3" y="282.7" font-size="21.2" font-family="'Liberation Sans', Arial, sans-serif" fill="#141414" text-anchor="middle" stroke="#141414" stroke-width="0.42" >-10</text>
<text x="1431.3" y="282.7" font-size="21.2" font-family="'Liberation Sans', Arial, sans-serif" fill="#141414" text-anchor="middle" stroke="#141414" stroke-width="0.42" >0</text>
<text x="1491.3" y="282.7" font-size="21.2" font-family="'Liberation Sans', Arial, sans-serif" fill="#141414" text-anchor="middle" stroke="#141414" stroke-width="0.42" >10</text>
<text x="1550.0" y="282.7" font-size="21.2" font-family="'Liberation Sans', Arial, sans-serif" fill="#141414" text-anchor="middle" stroke="#141414" stroke-width="0.42" >20</text>
<text x="1445.2" y="324.5" font-size="37.0" font-family="'Noto Sans CJK KR', 'Liberation Sans', sans-serif" fill="#050505" text-anchor="middle" textLength="115.5" lengthAdjust="spacingAndGlyphs" word-spacing="4" >x [mm]</text>
<g font-family="'DejaVu Serif', 'Liberation Serif', serif" fill="#111">
<text x="1617.1" y="41.4" font-size="37" stroke="#111" stroke-width="0.3">[</text>
<text x="1629.9" y="38.5" font-size="32.5" stroke="#111" stroke-width="0.45" transform="translate(1629.9 38.5) skewX(-5) translate(-1629.9 -38.5)">s</text>
<text x="1646.3" y="25.3" font-size="25" stroke="#111" stroke-width="0.5">−1</text>
<text x="1682.2" y="41.4" font-size="37" stroke="#111" stroke-width="0.3">]</text>
</g>
<g transform="translate(95.00 409.30) scale(8.37381 29.80000)" shape-rendering="crispEdges">
<rect width="42" height="8" fill="#370cba"/>
<path fill="#e8ce39" d="M17 2h8v1h-8zM3 3h6v1h-6zM14 3h14v1h-14zM31 3h10v1h-10zM3 4h6v1h-6zM14 4h14v1h-14zM31 4h10v1h-10zM17 5h8v1h-8z"/>
</g>
<rect x="95.00" y="409.30" width="351.70" height="238.40" fill="none" stroke="#2a2a3a" stroke-width="0.8"/>
<rect x="459.30" y="428.30" width="24.40" height="200.00" fill="url(#cb)" stroke="#3a3a3a" stroke-width="1"/>
<path d="M483.70 461.63h-2.6" stroke="#3a3a3a" stroke-width="1"/>
<text x="492.3" y="470.2" font-size="21.3" font-family="'Liberation Sans', Arial, sans-serif" fill="#141414" stroke="#141414" stroke-width="0.42" >0.01</text>
<path d="M483.70 544.97h-2.6" stroke="#3a3a3a" stroke-width="1"/>
<text x="492.3" y="553.6" font-size="21.3" font-family="'Liberation Sans', Arial, sans-serif" fill="#141414" stroke="#141414" stroke-width="0.42" >0.005</text>
<text x="492.3" y="636.9" font-size="21.3" font-family="'Liberation Sans', Arial, sans-serif" fill="#141414" stroke="#141414" stroke-width="0.42" >0</text>
<text x="62.3" y="380.7" font-size="37.0" font-family="'Noto Sans CJK KR', 'Liberation Sans', sans-serif" fill="#050505" textLength="225.0" lengthAdjust="spacingAndGlyphs" word-spacing="4" xml:space="preserve">y = <tspan dx="2.2">-44.3 mm</tspan></text>
<text x="33.0" y="524.0" font-size="37.0" font-family="'Noto Sans CJK KR', 'Liberation Sans', sans-serif" fill="#050505" text-anchor="middle" textLength="117.0" lengthAdjust="spacingAndGlyphs" transform="rotate(-90 33.0 524.0)" word-spacing="4" >z [mm]</text>
<text x="86.5" y="418.8" font-size="21.2" font-family="'Liberation Sans', Arial, sans-serif" fill="#141414" text-anchor="end" stroke="#141414" stroke-width="0.42" >20</text>
<text x="86.5" y="477.1" font-size="21.2" font-family="'Liberation Sans', Arial, sans-serif" fill="#141414" text-anchor="end" stroke="#141414" stroke-width="0.42" >10</text>
<text x="86.5" y="537.1" font-size="21.2" font-family="'Liberation Sans', Arial, sans-serif" fill="#141414" text-anchor="end" stroke="#141414" stroke-width="0.42" >0</text>
<text x="86.5" y="596.1" font-size="21.2" font-family="'Liberation Sans', Arial, sans-serif" fill="#141414" text-anchor="end" stroke="#141414" stroke-width="0.42" >-10</text>
<text x="86.5" y="656.1" font-size="21.2" font-family="'Liberation Sans', Arial, sans-serif" fill="#141414" text-anchor="end" stroke="#141414" stroke-width="0.42" >-20</text>
<text x="150.7" y="675.0" font-size="21.2" font-family="'Liberation Sans', Arial, sans-serif" fill="#141414" text-anchor="middle" stroke="#141414" stroke-width="0.42" >-20</text>
<text x="210.7" y="675.0" font-size="21.2" font-family="'Liberation Sans', Arial, sans-serif" fill="#141414" text-anchor="middle" stroke="#141414" stroke-width="0.42" >-10</text>
<text x="270.3" y="675.0" font-size="21.2" font-family="'Liberation Sans', Arial, sans-serif" fill="#141414" text-anchor="middle" stroke="#141414" stroke-width="0.42" >0</text>
<text x="330.0" y="675.0" font-size="21.2" font-family="'Liberation Sans', Arial, sans-serif" fill="#141414" text-anchor="middle" stroke="#141414" stroke-width="0.42" >10</text>
<text x="389.3" y="675.0" font-size="21.2" font-family="'Liberation Sans', Arial, sans-serif" fill="#141414" text-anchor="middle" stroke="#141414" stroke-width="0.42" >20</text>
<text x="274.2" y="711.0" font-size="37.0" font-family="'Noto Sans CJK KR', 'Liberation Sans', sans-serif" fill="#050505" text-anchor="middle" textLength="115.5" lengthAdjust="spacingAndGlyphs" word-spacing="4" >x [mm]</text>
<g font-family="'DejaVu Serif', 'Liberation Serif', serif" fill="#111">
<text x="436.2" y="395.3" font-size="37" stroke="#111" stroke-width="0.3">[</text>
<text x="449.0" y="392.4" font-size="32.5" stroke="#111" stroke-width="0.45" transform="translate(449.0 392.4) skewX(-5) translate(-449.0 -392.4)">s</text>
<text x="465.4" y="379.2" font-size="25" stroke="#111" stroke-width="0.5">−1</text>
<text x="501.3" y="395.3" font-size="37" stroke="#111" stroke-width="0.3">]</text>
</g>
<g transform="translate(684.00 409.30) scale(8.35714 29.80000)" shape-rendering="crispEdges">
<rect width="42" height="8" fill="#3a12c8"/>
<path fill="#3207ac" d="M0 2h1v1h-1zM11 2h1v1h-1zM0 5h1v1h-1zM11 5h1v1h-1z"/>
<path fill="#3408b1" d="M1 2h1v1h-1zM10 2h1v1h-1zM12 2h1v1h-1zM1 5h1v1h-1zM10 5h1v1h-1zM12 5h1v1h-1z"/>
<path fill="#350ab6" d="M12 1h1v1h-1zM12 6h1v1h-1z"/>
<path fill="#370cba" d="M11 1h1v1h-1zM13 1h1v1h-1zM29 2h1v1h-1zM29 5h1v1h-1zM11 6h1v1h-1zM13 6h1v1h-1z"/>
<path fill="#390fc1" d="M0 1h1v1h-1zM10 1h1v1h-1zM29 1h1v1h-1zM2 2h1v1h-1zM13 2h1v1h-1zM0 3h1v1h-1zM0 4h1v1h-1zM2 5h1v1h-1zM13 5h1v1h-1zM0 6h1v1h-1zM10 6h1v1h-1zM29 6h1v1h-1z"/>
<path fill="#3c16d0" d="M18 0h6v1h-6zM27 1h1v1h-1zM31 1h2v1h-2zM40 1h1v1h-1zM27 6h1v1h-1zM31 6h2v1h-2zM40 6h1v1h-1zM18 7h6v1h-6z"/>
<path fill="#3e19d7" d="M15 1h1v1h-1zM26 1h1v1h-1zM33 1h7v1h-7zM30 2h1v1h-1zM41 2h1v1h-1zM1 3h1v1h-1zM10 3h1v1h-1zM12 3h1v1h-1zM1 4h1v1h-1zM10 4h1v1h-1zM12 4h1v1h-1zM30 5h1v1h-1zM41 5h1v1h-1zM15 6h1v1h-1zM26 6h1v1h-1zM33 6h7v1h-7z"/>
<path fill="#3f1ddb" d="M16 1h1v1h-1zM41 1h1v1h-1zM16 6h1v1h-1zM41 6h1v1h-1z"/>
<path fill="#4020de" d="M41 0h1v1h-1zM17 1h9v1h-9zM17 6h9v1h-9zM41 7h1v1h-1z"/>
<path fill="#4224e2" d="M3 2h1v1h-1zM8 2h1v1h-1zM14 2h1v1h-1zM3 5h1v1h-1zM8 5h1v1h-1zM14 5h1v1h-1z"/>
<path fill="#4328e6" d="M27 2h1v1h-1zM27 5h1v1h-1z"/>
<path fill="#442cea" d="M29 3h1v1h-1zM29 4h1v1h-1z"/>
<path fill="#4733f1" d="M31 2h1v1h-1zM40 2h1v1h-1zM13 3h1v1h-1zM13 4h1v1h-1zM31 5h1v1h-1zM40 5h1v1h-1z"/>
<path fill="#4837f5" d="M4 2h1v1h-1zM7 2h1v1h-1zM4 5h1v1h-1zM7 5h1v1h-1z"/>
<path fill="#493bf6" d="M2 3h1v1h-1zM2 4h1v1h-1z"/>
<path fill="#4a3ef6" d="M9 3h1v1h-1zM28 3h1v1h-1zM9 4h1v1h-1zM28 4h1v1h-1z"/>
<path fill="#4a42f7" d="M5 2h2v1h-2zM5 5h2v1h-2z"/>
<path fill="#4b46f8" d="M15 2h1v1h-1zM26 2h1v1h-1zM15 5h1v1h-1zM26 5h1v1h-1z"/>
<path fill="#4c4af8" d="M39 2h1v1h-1zM39 5h1v1h-1z"/>
<path fill="#4c4ef9" d="M32 2h1v1h-1zM32 5h1v1h-1z"/>
<path fill="#4d51f9" d="M30 3h1v1h-1zM41 3h1v1h-1zM30 4h1v1h-1zM41 4h1v1h-1z"/>
<path fill="#4e5df6" d="M33 2h1v1h-1zM38 2h1v1h-1zM33 5h1v1h-1zM38 5h1v1h-1z"/>
<path fill="#4f66f2" d="M34 2h4v1h-4zM34 5h4v1h-4z"/>
<path fill="#506eef" d="M16 2h1v1h-1zM25 2h1v1h-1zM16 5h1v1h-1zM25 5h1v1h-1z"/>
<path fill="#5072ed" d="M14 3h1v1h-1zM14 4h1v1h-1z"/>
<path fill="#517ae8" d="M3 3h1v1h-1zM8 3h1v1h-1zM3 4h1v1h-1zM8 4h1v1h-1z"/>
<path fill="#527ee6" d="M27 3h1v1h-1zM27 4h1v1h-1z"/>
<path fill="#5896d7" d="M17 2h1v1h-1zM17 5h1v1h-1z"/>
<path fill="#5999d2" d="M24 2h1v1h-1zM24 5h1v1h-1z"/>
<path fill="#5b9ec7" d="M31 3h1v1h-1zM40 3h1v1h-1zM31 4h1v1h-1zM40 4h1v1h-1z"/>
<path fill="#5ea9b1" d="M7 3h1v1h-1zM7 4h1v1h-1z"/>
<path fill="#5facac" d="M4 3h1v1h-1zM4 4h1v1h-1z"/>
<path fill="#61aea6" d="M18 2h1v1h-1zM23 2h1v1h-1zM18 5h1v1h-1zM23 5h1v1h-1z"/>
<path fill="#6bba88" d="M15 3h1v1h-1zM15 4h1v1h-1z"/>
<path fill="#6ebc82" d="M19 2h1v1h-1zM22 2h1v1h-1zM5 3h2v1h-2zM26 3h1v1h-1zM5 4h2v1h-2zM26 4h1v1h-1zM19 5h1v1h-1zM22 5h1v1h-1z"/>
<path fill="#73c077" d="M20 2h2v1h-2zM20 5h2v1h-2z"/>
<path fill="#88c356" d="M32 3h1v1h-1zM39 3h1v1h-1zM32 4h1v1h-1zM39 4h1v1h-1z"/>
<path fill="#bab935" d="M38 3h1v1h-1zM38 4h1v1h-1z"/>
<path fill="#c0b634" d="M16 3h1v1h-1zM25 3h1v1h-1zM33 3h1v1h-1zM16 4h1v1h-1zM25 4h1v1h-1zM33 4h1v1h-1z"/>
<path fill="#e1b03e" d="M34 3h1v1h-1zM37 3h1v1h-1zM34 4h1v1h-1zM37 4h1v1h-1z"/>
<path fill="#e6b440" d="M35 3h2v1h-2zM35 4h2v1h-2z"/>
<path fill="#e7bf3d" d="M17 3h1v1h-1zM24 3h1v1h-1zM17 4h1v1h-1zM24 4h1v1h-1z"/>
<path fill="#e8ce39" d="M18 3h1v1h-1zM18 4h1v1h-1z"/>
<path fill="#e8d338" d="M20 3h2v1h-2zM20 4h2v1h-2z"/>
<path fill="#e8d937" d="M19 3h1v1h-1zM22 3h2v1h-2zM19 4h1v1h-1zM22 4h2v1h-2z"/>
</g>
<rect x="684.00" y="409.30" width="351.00" height="238.40" fill="none" stroke="#2a2a3a" stroke-width="0.8"/>
<rect x="1048.30" y="428.30" width="24.40" height="200.00" fill="url(#cb)" stroke="#3a3a3a" stroke-width="1"/>
<path d="M1072.70 461.63h-2.6" stroke="#3a3a3a" stroke-width="1"/>
<text x="1081.0" y="470.2" font-size="21.3" font-family="'Liberation Sans', Arial, sans-serif" fill="#141414" stroke="#141414" stroke-width="0.42" >0.01</text>
<path d="M1072.70 544.97h-2.6" stroke="#3a3a3a" stroke-width="1"/>
<text x="1081.0" y="553.6" font-size="21.3" font-family="'Liberation Sans', Arial, sans-serif" fill="#141414" stroke="#141414" stroke-width="0.42" >0.005</text>
<text x="1081.0" y="636.9" font-size="21.3" font-family="'Liberation Sans', Arial, sans-serif" fill="#141414" stroke="#141414" stroke-width="0.42" >0</text>
<text x="652.3" y="382.3" font-size="37.0" font-family="'Noto Sans CJK KR', 'Liberation Sans', sans-serif" fill="#050505" textLength="225.7" lengthAdjust="spacingAndGlyphs" word-spacing="4" xml:space="preserve">y = <tspan dx="2.2">-44.3 mm</tspan></text>
<text x="623.0" y="524.0" font-size="37.0" font-family="'Noto Sans CJK KR', 'Liberation Sans', sans-serif" fill="#050505" text-anchor="middle" textLength="117.0" lengthAdjust="spacingAndGlyphs" transform="rotate(-90 623.0 524.0)" word-spacing="4" >z [mm]</text>
<text x="675.5" y="418.8" font-size="21.2" font-family="'Liberation Sans', Arial, sans-serif" fill="#141414" text-anchor="end" stroke="#141414" stroke-width="0.42" >20</text>
<text x="675.5" y="477.1" font-size="21.2" font-family="'Liberation Sans', Arial, sans-serif" fill="#141414" text-anchor="end" stroke="#141414" stroke-width="0.42" >10</text>
<text x="675.5" y="537.1" font-size="21.2" font-family="'Liberation Sans', Arial, sans-serif" fill="#141414" text-anchor="end" stroke="#141414" stroke-width="0.42" >0</text>
<text x="675.5" y="596.1" font-size="21.2" font-family="'Liberation Sans', Arial, sans-serif" fill="#141414" text-anchor="end" stroke="#141414" stroke-width="0.42" >-10</text>
<text x="675.5" y="656.1" font-size="21.2" font-family="'Liberation Sans', Arial, sans-serif" fill="#141414" text-anchor="end" stroke="#141414" stroke-width="0.42" >-20</text>
<text x="740.0" y="675.0" font-size="21.2" font-family="'Liberation Sans', Arial, sans-serif" fill="#141414" text-anchor="middle" stroke="#141414" stroke-width="0.42" >-20</text>
<text x="799.3" y="675.0" font-size="21.2" font-family="'Liberation Sans', Arial, sans-serif" fill="#141414" text-anchor="middle" stroke="#141414" stroke-width="0.42" >-10</text>
<text x="859.7" y="675.0" font-size="21.2" font-family="'Liberation Sans', Arial, sans-serif" fill="#141414" text-anchor="middle" stroke="#141414" stroke-width="0.42" >0</text>
<text x="919.3" y="675.0" font-size="21.2" font-family="'Liberation Sans', Arial, sans-serif" fill="#141414" text-anchor="middle" stroke="#141414" stroke-width="0.42" >10</text>
<text x="978.3" y="675.0" font-size="21.2" font-family="'Liberation Sans', Arial, sans-serif" fill="#141414" text-anchor="middle" stroke="#141414" stroke-width="0.42" >20</text>
<text x="864.2" y="711.7" font-size="37.0" font-family="'Noto Sans CJK KR', 'Liberation Sans', sans-serif" fill="#050505" text-anchor="middle" textLength="115.5" lengthAdjust="spacingAndGlyphs" word-spacing="4" >x [mm]</text>
<g font-family="'DejaVu Serif', 'Liberation Serif', serif" fill="#111">
<text x="1044.0" y="395.3" font-size="37" stroke="#111" stroke-width="0.3">[</text>
<text x="1056.8" y="392.4" font-size="32.5" stroke="#111" stroke-width="0.45" transform="translate(1056.8 392.4) skewX(-5) translate(-1056.8 -392.4)">s</text>
<text x="1073.2" y="379.2" font-size="25" stroke="#111" stroke-width="0.5">−1</text>
<text x="1109.1" y="395.3" font-size="37" stroke="#111" stroke-width="0.3">]</text>
</g>
<g transform="translate(1263.30 409.30) scale(8.36667 29.80000)" shape-rendering="crispEdges">
<rect width="42" height="8" fill="#3207ac"/>
<path fill="#3005a8" d="M16 0h11v1h-11zM16 7h11v1h-11z"/>
<path fill="#3408b1" d="M1 2h1v1h-1zM10 2h1v1h-1zM1 5h1v1h-1zM10 5h1v1h-1z"/>
<path fill="#350ab6" d="M12 1h1v1h-1zM29 2h1v1h-1zM29 5h1v1h-1zM12 6h1v1h-1z"/>
<path fill="#370cba" d="M10 1h2v1h-2zM13 1h1v1h-1zM13 2h1v1h-1zM13 5h1v1h-1zM10 6h2v1h-2zM13 6h1v1h-1z"/>
<path fill="#390fc1" d="M0 1h3v1h-3zM9 1h1v1h-1zM29 1h1v1h-1zM2 2h1v1h-1zM9 2h1v1h-1zM28 2h1v1h-1zM2 5h1v1h-1zM9 5h1v1h-1zM28 5h1v1h-1zM0 6h3v1h-3zM9 6h1v1h-1zM29 6h1v1h-1z"/>
<path fill="#3a12c8" d="M3 1h6v1h-6zM28 1h1v1h-1zM30 1h1v1h-1zM41 1h1v1h-1zM30 2h1v1h-1zM41 2h1v1h-1zM0 3h1v1h-1zM11 3h1v1h-1zM0 4h1v1h-1zM11 4h1v1h-1zM30 5h1v1h-1zM41 5h1v1h-1zM3 6h6v1h-6zM28 6h1v1h-1zM30 6h1v1h-1zM41 6h1v1h-1z"/>
<path fill="#3c16d0" d="M14 1h1v1h-1zM31 1h1v1h-1zM14 6h1v1h-1zM31 6h1v1h-1z"/>
<path fill="#3e19d7" d="M27 1h1v1h-1zM40 1h1v1h-1zM12 3h1v1h-1zM12 4h1v1h-1zM27 6h1v1h-1zM40 6h1v1h-1z"/>
<path fill="#3f1ddb" d="M32 1h1v1h-1zM39 1h1v1h-1zM1 3h1v1h-1zM10 3h1v1h-1zM1 4h1v1h-1zM10 4h1v1h-1zM32 6h1v1h-1zM39 6h1v1h-1z"/>
<path fill="#4020de" d="M33 1h2v1h-2zM37 1h2v1h-2zM3 2h1v1h-1zM8 2h1v1h-1zM14 2h1v1h-1zM27 2h1v1h-1zM3 5h1v1h-1zM8 5h1v1h-1zM14 5h1v1h-1zM27 5h1v1h-1zM33 6h2v1h-2zM37 6h2v1h-2z"/>
<path fill="#4224e2" d="M15 1h1v1h-1zM26 1h1v1h-1zM35 1h2v1h-2zM15 6h1v1h-1zM26 6h1v1h-1zM35 6h2v1h-2z"/>
<path fill="#4328e6" d="M31 2h1v1h-1zM40 2h1v1h-1zM31 5h1v1h-1zM40 5h1v1h-1z"/>
<path fill="#442cea" d="M29 3h1v1h-1zM29 4h1v1h-1z"/>
<path fill="#4630ee" d="M16 1h1v1h-1zM25 1h1v1h-1zM4 2h1v1h-1zM7 2h1v1h-1zM4 5h1v1h-1zM7 5h1v1h-1zM16 6h1v1h-1zM25 6h1v1h-1z"/>
<path fill="#4733f1" d="M17 1h1v1h-1zM24 1h1v1h-1zM17 6h1v1h-1zM24 6h1v1h-1z"/>
<path fill="#4837f5" d="M18 1h6v1h-6zM5 2h2v1h-2zM13 3h1v1h-1zM13 4h1v1h-1zM5 5h2v1h-2zM18 6h6v1h-6z"/>
<path fill="#493bf6" d="M28 3h1v1h-1zM28 4h1v1h-1z"/>
<path fill="#4a42f7" d="M15 2h1v1h-1zM26 2h1v1h-1zM32 2h1v1h-1zM39 2h1v1h-1zM2 3h1v1h-1zM9 3h1v1h-1zM2 4h1v1h-1zM9 4h1v1h-1zM15 5h1v1h-1zM26 5h1v1h-1zM32 5h1v1h-1zM39 5h1v1h-1z"/>
<path fill="#4c4af8" d="M41 3h1v1h-1zM41 4h1v1h-1z"/>
<path fill="#4c4ef9" d="M30 3h1v1h-1zM30 4h1v1h-1z"/>
<path fill="#4d51f9" d="M33 2h1v1h-1zM38 2h1v1h-1zM33 5h1v1h-1zM38 5h1v1h-1z"/>
<path fill="#4e5df6" d="M34 2h4v1h-4zM34 5h4v1h-4z"/>
<path fill="#4f66f2" d="M16 2h1v1h-1zM25 2h1v1h-1zM16 5h1v1h-1zM25 5h1v1h-1z"/>
<path fill="#5076eb" d="M3 3h1v1h-1zM8 3h1v1h-1zM3 4h1v1h-1zM8 4h1v1h-1z"/>
<path fill="#517ae8" d="M14 3h1v1h-1zM27 3h1v1h-1zM14 4h1v1h-1zM27 4h1v1h-1z"/>
<path fill="#558ade" d="M17 2h1v1h-1zM24 2h1v1h-1zM17 5h1v1h-1zM24 5h1v1h-1z"/>
<path fill="#5896d7" d="M31 3h1v1h-1zM40 3h1v1h-1zM31 4h1v1h-1zM40 4h1v1h-1z"/>
<path fill="#5ca4bc" d="M18 2h1v1h-1zM23 2h1v1h-1zM4 3h1v1h-1zM7 3h1v1h-1zM4 4h1v1h-1zM7 4h1v1h-1zM18 5h1v1h-1zM23 5h1v1h-1z"/>
<path fill="#63b1a0" d="M19 2h1v1h-1zM22 2h1v1h-1zM19 5h1v1h-1zM22 5h1v1h-1z"/>
<path fill="#67b693" d="M20 2h2v1h-2zM5 3h2v1h-2zM5 4h2v1h-2zM20 5h2v1h-2z"/>
<path fill="#6bba88" d="M15 3h1v1h-1zM26 3h1v1h-1zM15 4h1v1h-1zM26 4h1v1h-1z"/>
<path fill="#7dc366" d="M32 3h1v1h-1zM39 3h1v1h-1zM32 4h1v1h-1zM39 4h1v1h-1z"/>
<path fill="#bab935" d="M16 3h1v1h-1zM25 3h1v1h-1zM16 4h1v1h-1zM25 4h1v1h-1z"/>
<path fill="#c0b634" d="M33 3h1v1h-1zM38 3h1v1h-1zM33 4h1v1h-1zM38 4h1v1h-1z"/>
<path fill="#e1b03e" d="M34 3h1v1h-1zM37 3h1v1h-1zM34 4h1v1h-1zM37 4h1v1h-1z"/>
<path fill="#e6b440" d="M35 3h2v1h-2zM35 4h2v1h-2z"/>
<path fill="#e7b93e" d="M17 3h1v1h-1zM24 3h1v1h-1zM17 4h1v1h-1zM24 4h1v1h-1z"/>
<path fill="#e8d338" d="M18 3h1v1h-1zM23 3h1v1h-1zM18 4h1v1h-1zM23 4h1v1h-1z"/>
<path fill="#e8d937" d="M19 3h1v1h-1zM22 3h1v1h-1zM19 4h1v1h-1zM22 4h1v1h-1z"/>
<path fill="#e9dd36" d="M20 3h2v1h-2zM20 4h2v1h-2z"/>
</g>
<rect x="1263.30" y="409.30" width="351.40" height="238.40" fill="none" stroke="#2a2a3a" stroke-width="0.8"/>
<rect x="1627.70" y="428.30" width="24.30" height="200.00" fill="url(#cb)" stroke="#3a3a3a" stroke-width="1"/>
<path d="M1652.00 461.63h-2.6" stroke="#3a3a3a" stroke-width="1"/>
<text x="1660.7" y="470.2" font-size="21.3" font-family="'Liberation Sans', Arial, sans-serif" fill="#141414" stroke="#141414" stroke-width="0.42" >0.01</text>
<path d="M1652.00 544.97h-2.6" stroke="#3a3a3a" stroke-width="1"/>
<text x="1660.7" y="553.6" font-size="21.3" font-family="'Liberation Sans', Arial, sans-serif" fill="#141414" stroke="#141414" stroke-width="0.42" >0.005</text>
<text x="1660.7" y="636.9" font-size="21.3" font-family="'Liberation Sans', Arial, sans-serif" fill="#141414" stroke="#141414" stroke-width="0.42" >0</text>
<text x="1239.0" y="382.3" font-size="37.0" font-family="'Noto Sans CJK KR', 'Liberation Sans', sans-serif" fill="#050505" textLength="225.3" lengthAdjust="spacingAndGlyphs" word-spacing="4" xml:space="preserve">y = <tspan dx="2.2">-44.3 mm</tspan></text>
<text x="1209.0" y="524.0" font-size="37.0" font-family="'Noto Sans CJK KR', 'Liberation Sans', sans-serif" fill="#050505" text-anchor="middle" textLength="117.0" lengthAdjust="spacingAndGlyphs" transform="rotate(-90 1209.0 524.0)" word-spacing="4" >z [mm]</text>
<text x="1254.5" y="418.8" font-size="21.2" font-family="'Liberation Sans', Arial, sans-serif" fill="#141414" text-anchor="end" stroke="#141414" stroke-width="0.42" >20</text>
<text x="1254.5" y="477.1" font-size="21.2" font-family="'Liberation Sans', Arial, sans-serif" fill="#141414" text-anchor="end" stroke="#141414" stroke-width="0.42" >10</text>
<text x="1254.5" y="537.1" font-size="21.2" font-family="'Liberation Sans', Arial, sans-serif" fill="#141414" text-anchor="end" stroke="#141414" stroke-width="0.42" >0</text>
<text x="1254.5" y="596.1" font-size="21.2" font-family="'Liberation Sans', Arial, sans-serif" fill="#141414" text-anchor="end" stroke="#141414" stroke-width="0.42" >-10</text>
<text x="1254.5" y="656.1" font-size="21.2" font-family="'Liberation Sans', Arial, sans-serif" fill="#141414" text-anchor="end" stroke="#141414" stroke-width="0.42" >-20</text>
<text x="1319.7" y="675.0" font-size="21.2" font-family="'Liberation Sans', Arial, sans-serif" fill="#141414" text-anchor="middle" stroke="#141414" stroke-width="0.42" >-20</text>
<text x="1379.0" y="675.0" font-size="21.2" font-family="'Liberation Sans', Arial, sans-serif" fill="#141414" text-anchor="middle" stroke="#141414" stroke-width="0.42" >-10</text>
<text x="1439.0" y="675.0" font-size="21.2" font-family="'Liberation Sans', Arial, sans-serif" fill="#141414" text-anchor="middle" stroke="#141414" stroke-width="0.42" >0</text>
<text x="1499.0" y="675.0" font-size="21.2" font-family="'Liberation Sans', Arial, sans-serif" fill="#141414" text-anchor="middle" stroke="#141414" stroke-width="0.42" >10</text>
<text x="1557.3" y="675.0" font-size="21.2" font-family="'Liberation Sans', Arial, sans-serif" fill="#141414" text-anchor="middle" stroke="#141414" stroke-width="0.42" >20</text>
<text x="1450.2" y="711.7" font-size="37.0" font-family="'Noto Sans CJK KR', 'Liberation Sans', sans-serif" fill="#050505" text-anchor="middle" textLength="115.5" lengthAdjust="spacingAndGlyphs" word-spacing="4" >x [mm]</text>
<g font-family="'DejaVu Serif', 'Liberation Serif', serif" fill="#111">
<text x="1617.1" y="395.3" font-size="37" stroke="#111" stroke-width="0.3">[</text>
<text x="1629.9" y="392.4" font-size="32.5" stroke="#111" stroke-width="0.45" transform="translate(1629.9 392.4) skewX(-5) translate(-1629.9 -392.4)">s</text>
<text x="1646.3" y="379.2" font-size="25" stroke="#111" stroke-width="0.5">−1</text>
<text x="1682.2" y="395.3" font-size="37" stroke="#111" stroke-width="0.3">]</text>
</g>
<g font-family="'Noto Sans CJK KR', 'Liberation Sans', sans-serif" fill="#000">
<text x="240.2" y="763.3" font-size="36" font-weight="900" textLength="19.2" lengthAdjust="spacingAndGlyphs">(</text>
<text x="255.8" y="764.4" font-size="40" font-weight="bold" textLength="26.0" lengthAdjust="spacingAndGlyphs">a</text>
<text x="278.4" y="763.3" font-size="36" font-weight="900" textLength="20.0" lengthAdjust="spacingAndGlyphs">)</text>
</g>
<g font-family="'Noto Sans CJK KR', 'Liberation Sans', sans-serif" fill="#000">
<text x="828.9" y="762.8" font-size="36" font-weight="900" textLength="19.7" lengthAdjust="spacingAndGlyphs">(</text>
<text x="844.8" y="763.8" font-size="40" font-weight="bold" textLength="29.7" lengthAdjust="spacingAndGlyphs">b</text>
<text x="871.4" y="762.8" font-size="36" font-weight="900" textLength="19.5" lengthAdjust="spacingAndGlyphs">)</text>
</g>
<g font-family="'Noto Sans CJK KR', 'Liberation Sans', sans-serif" fill="#000">
<text x="1401.1" y="762.8" font-size="36" font-weight="900" textLength="19.1" lengthAdjust="spacingAndGlyphs">(</text>
<text x="1417.3" y="763.8" font-size="40" font-weight="bold" textLength="21.4" lengthAdjust="spacingAndGlyphs">c</text>
<text x="1437.0" y="762.8" font-size="36" font-weight="900" textLength="19.7" lengthAdjust="spacingAndGlyphs">)</text>
</g>
<path d="M169.6 884.9V1286.3H678.2" fill="none" stroke="#3c3c3c" stroke-width="1.1"/>
<path d="M169.6 1286.2h-5.5" stroke="#3c3c3c" stroke-width="1.1"/>
<text x="156.6" y="1294.7" font-size="22.1" font-family="'Liberation Sans', Arial, sans-serif" fill="#141414" text-anchor="end" stroke="#141414" stroke-width="0.42" >0</text>
<path d="M169.6 1219.4h-5.5" stroke="#3c3c3c" stroke-width="1.1"/>
<text x="156.6" y="1227.9" font-size="22.1" font-family="'Liberation Sans', Arial, sans-serif" fill="#141414" text-anchor="end" stroke="#141414" stroke-width="0.42" >0.002</text>
<path d="M169.6 1152.6h-5.5" stroke="#3c3c3c" stroke-width="1.1"/>
<text x="156.6" y="1161.1" font-size="22.1" font-family="'Liberation Sans', Arial, sans-serif" fill="#141414" text-anchor="end" stroke="#141414" stroke-width="0.42" >0.004</text>
<path d="M169.6 1085.8h-5.5" stroke="#3c3c3c" stroke-width="1.1"/>
<text x="156.6" y="1094.3" font-size="22.1" font-family="'Liberation Sans', Arial, sans-serif" fill="#141414" text-anchor="end" stroke="#141414" stroke-width="0.42" >0.006</text>
<path d="M169.6 1019.0h-5.5" stroke="#3c3c3c" stroke-width="1.1"/>
<text x="156.6" y="1027.5" font-size="22.1" font-family="'Liberation Sans', Arial, sans-serif" fill="#141414" text-anchor="end" stroke="#141414" stroke-width="0.42" >0.008</text>
<path d="M169.6 952.2h-5.5" stroke="#3c3c3c" stroke-width="1.1"/>
<text x="156.6" y="960.7" font-size="22.1" font-family="'Liberation Sans', Arial, sans-serif" fill="#141414" text-anchor="end" stroke="#141414" stroke-width="0.42" >0.01</text>
<path d="M169.6 885.4h-5.5" stroke="#3c3c3c" stroke-width="1.1"/>
<text x="156.6" y="893.9" font-size="22.1" font-family="'Liberation Sans', Arial, sans-serif" fill="#141414" text-anchor="end" stroke="#141414" stroke-width="0.42" >0.012</text>
<path d="M187.6 1286.3v5.6" stroke="#3c3c3c" stroke-width="1.1"/>
<text x="187.9" y="1320.0" font-size="22.0" font-family="'Liberation Sans', Arial, sans-serif" fill="#141414" text-anchor="middle" stroke="#141414" stroke-width="0.42" >30</text>
<path d="M266.7 1286.3v5.6" stroke="#3c3c3c" stroke-width="1.1"/>
<text x="267.0" y="1320.0" font-size="22.0" font-family="'Liberation Sans', Arial, sans-serif" fill="#141414" text-anchor="middle" stroke="#141414" stroke-width="0.42" >35</text>
<path d="M345.3 1286.3v5.6" stroke="#3c3c3c" stroke-width="1.1"/>
<text x="345.6" y="1320.0" font-size="22.0" font-family="'Liberation Sans', Arial, sans-serif" fill="#141414" text-anchor="middle" stroke="#141414" stroke-width="0.42" >40</text>
<path d="M423.9 1286.3v5.6" stroke="#3c3c3c" stroke-width="1.1"/>
<text x="424.2" y="1320.0" font-size="22.0" font-family="'Liberation Sans', Arial, sans-serif" fill="#141414" text-anchor="middle" stroke="#141414" stroke-width="0.42" >45</text>
<path d="M502.1 1286.3v5.6" stroke="#3c3c3c" stroke-width="1.1"/>
<text x="502.4" y="1320.0" font-size="22.0" font-family="'Liberation Sans', Arial, sans-serif" fill="#141414" text-anchor="middle" stroke="#141414" stroke-width="0.42" >50</text>
<path d="M580.7 1286.3v5.6" stroke="#3c3c3c" stroke-width="1.1"/>
<text x="581.0" y="1320.0" font-size="22.0" font-family="'Liberation Sans', Arial, sans-serif" fill="#141414" text-anchor="middle" stroke="#141414" stroke-width="0.42" >55</text>
<path d="M659.8 1286.3v5.6" stroke="#3c3c3c" stroke-width="1.1"/>
<text x="660.1" y="1320.0" font-size="22.0" font-family="'Liberation Sans', Arial, sans-serif" fill="#141414" text-anchor="middle" stroke="#141414" stroke-width="0.42" >60</text>
<svg x="169.9" y="880" width="508.3" height="410" viewBox="169.9 880 508.3 410">
<polyline fill="none" stroke="#000" stroke-width="3.6" stroke-linejoin="round" points="169.7 1268.2 191.8 1268.2 213.9 1268.2 236.0 1268.2 258.1 1268.2 280.1 1268.2 302.2 1268.2 324.4 925.5 346.5 925.5 368.6 925.5 390.6 925.5 412.8 925.5 434.9 925.5 457.0 925.5 479.1 925.5 501.1 925.5 523.2 925.5 545.4 925.5 567.5 925.5 589.6 925.5 611.6 925.5 633.8 1268.2 655.9 1268.2 678.0 1268.2"/>
<polyline fill="none" stroke="#bf4a1e" stroke-width="3.3" stroke-linejoin="round" points="169.7 1270.9 191.8 1270.1 213.9 1267.8 236.0 1269.7 258.1 1257.2 280.1 1282.3 302.2 1163.0 324.4 1096.7 346.5 1001.3 368.6 947.5 390.6 936.2 412.8 924.1 434.9 920.8 457.0 923.0 479.1 918.3 501.1 921.1 523.2 924.5 545.4 933.9 567.5 963.0 589.6 1020.2 611.6 1123.0 633.8 1204.2 655.9 1267.1 678.0 1265.9"/>
<polyline fill="none" stroke="#72a52b" stroke-width="3.3" stroke-linejoin="round" points="169.7 1266.8 191.8 1275.7 213.9 1267.1 236.0 1265.6 258.1 1269.7 280.1 1261.0 302.2 1184.9 324.4 1095.2 346.5 1010.0 368.6 953.2 390.6 930.8 412.8 920.6 434.9 916.5 457.0 915.3 479.1 914.7 501.1 915.8 523.2 921.1 545.4 934.7 567.5 967.1 589.6 1033.5 611.6 1124.3 633.8 1207.8 655.9 1264.2 678.0 1270.7"/>
</svg>
<text x="97.3" y="844.7" font-size="37.5" font-family="'Noto Sans CJK KR', 'Liberation Sans', sans-serif" fill="#050505" textLength="422.0" lengthAdjust="spacingAndGlyphs" word-spacing="4" xml:space="preserve">z = - 2.5 mm, x = 0.7 mm</text>
<g font-family="'DejaVu Serif', 'Liberation Serif', serif" fill="#111">
<text x="-1.8" y="877.1" font-size="37" stroke="#111" stroke-width="0.3">[</text>
<text x="11.0" y="874.2" font-size="32.5" stroke="#111" stroke-width="0.45" transform="translate(11.0 874.2) skewX(-5) translate(-11.0 -874.2)">s</text>
<text x="27.4" y="861.0" font-size="25" stroke="#111" stroke-width="0.5">−1</text>
<text x="63.3" y="877.1" font-size="37" stroke="#111" stroke-width="0.3">]</text>
</g>
<text x="64.8" y="1101.0" font-size="44.0" font-family="'Noto Sans CJK KR', 'Liberation Sans', sans-serif" fill="#050505" text-anchor="middle" textLength="394.0" lengthAdjust="spacingAndGlyphs" transform="rotate(-90 64.8 1101.0)" word-spacing="4" >Blood perfusion rate</text>
<text x="423.7" y="1366.4" font-size="37.0" font-family="'Noto Sans CJK KR', 'Liberation Sans', sans-serif" fill="#050505" text-anchor="middle" textLength="117.0" lengthAdjust="spacingAndGlyphs" word-spacing="4" >y [mm]</text>
<g font-family="'Noto Sans CJK KR', 'Liberation Sans', sans-serif" fill="#000">
<text x="387.5" y="1436.6" font-size="36" font-weight="900" textLength="19.5" lengthAdjust="spacingAndGlyphs">(</text>
<text x="403.6" y="1437.5" font-size="40" font-weight="bold" textLength="29.1" lengthAdjust="spacingAndGlyphs">d</text>
<text x="429.7" y="1436.6" font-size="36" font-weight="900" textLength="19.5" lengthAdjust="spacingAndGlyphs">)</text>
</g>
<rect x="703.2" y="1029.3" width="281.7" height="123.1" fill="#fff" stroke="#333" stroke-width="1.4"/>
<path d="M712 1052.8H786.7" stroke="#000" stroke-width="4.2"/>
<text x="792.8" y="1064.2" font-size="30.6" font-family="'Liberation Sans', Arial, sans-serif" fill="#000" textLength="63.3" lengthAdjust="spacingAndGlyphs" stroke="#000" stroke-width="0.42" >True</text>
<path d="M712 1091.0H786.7" stroke="#bf4a1e" stroke-width="4.2"/>
<text x="792.8" y="1102.1" font-size="30.6" font-family="'Liberation Sans', Arial, sans-serif" fill="#000" textLength="183.6" lengthAdjust="spacingAndGlyphs" stroke="#000" stroke-width="0.42" >Conventional</text>
<path d="M712 1130.1H786.7" stroke="#72a52b" stroke-width="4.2"/>
<text x="792.8" y="1140.4" font-size="30.6" font-family="'Liberation Sans', Arial, sans-serif" fill="#000" textLength="134.6" lengthAdjust="spacingAndGlyphs" stroke="#000" stroke-width="0.42" >Proposed</text>
</svg>
</body></html>
